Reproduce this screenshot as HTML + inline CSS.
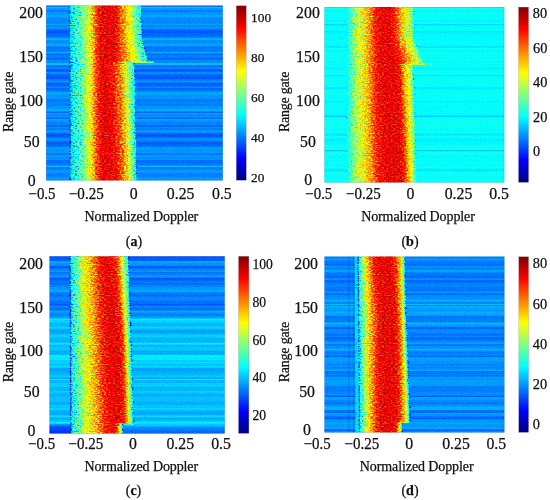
<!DOCTYPE html>
<html lang="en"><head><meta charset="utf-8"><title>Range-Doppler spectra</title>
<style>html,body{margin:0;padding:0;background:#fff}body{width:550px;height:500px;overflow:hidden}svg{display:block}text{font-family:"Liberation Serif", "DejaVu Serif", serif;fill:#111;stroke:#111;stroke-width:.25px}</style></head>
<body>
<svg width="550" height="500" viewBox="0 0 550 500">
<defs>
<linearGradient id="cbg" x1="0" y1="1" x2="0" y2="0"><stop offset="0" stop-color="#000080"/><stop offset=".125" stop-color="#0000ff"/><stop offset=".375" stop-color="#00ffff"/><stop offset=".625" stop-color="#ffff00"/><stop offset=".875" stop-color="#ff0000"/><stop offset="1" stop-color="#800000"/></linearGradient>
<filter id="jeta" filterUnits="userSpaceOnUse" x="44" y="3" width="182" height="180" color-interpolation-filters="sRGB"><feTurbulence type="fractalNoise" baseFrequency="0.45 0.9" numOctaves="2" seed="13" result="t"/><feColorMatrix in="t" type="matrix" values="1 0 0 0 0 1 0 0 0 0 1 0 0 0 0 0 0 0 0 1" result="n0"/><feComponentTransfer in="n0" result="n"><feFuncR type="table" tableValues="0 .26 .5 .63 .72"/><feFuncG type="table" tableValues="0 .26 .5 .63 .72"/><feFuncB type="table" tableValues="0 .26 .5 .63 .72"/></feComponentTransfer><feColorMatrix in="SourceGraphic" type="matrix" values="1 0 0 0 0 1 0 0 0 0 1 0 0 0 0 0 0 0 0 1" result="v"/><feColorMatrix in="SourceGraphic" type="matrix" values="0 1 0 0 0 0 1 0 0 0 0 1 0 0 0 0 0 0 0 1" result="m"/><feComposite in="m" in2="n" operator="arithmetic" k1="0.72" k2="-0.33" k3="0" k4="0.5" result="mn"/><feComposite in="v" in2="mn" operator="arithmetic" k1="0" k2="1" k3="1" k4="-0.5" result="s"/><feComponentTransfer in="s" result="c"><feFuncR type="table" tableValues="0 0 0 0 .5 1 1 1 .5"/><feFuncG type="table" tableValues="0 0 .5 1 1 1 .5 0 0"/><feFuncB type="table" tableValues=".5 1 1 1 .5 0 0 0 0"/></feComponentTransfer><feGaussianBlur in="c" stdDeviation="0.62"/></filter>
<filter id="jetb" filterUnits="userSpaceOnUse" x="322" y="5" width="185" height="181" color-interpolation-filters="sRGB"><feTurbulence type="fractalNoise" baseFrequency="0.45 0.9" numOctaves="2" seed="29" result="t"/><feColorMatrix in="t" type="matrix" values="1 0 0 0 0 1 0 0 0 0 1 0 0 0 0 0 0 0 0 1" result="n0"/><feComponentTransfer in="n0" result="n"><feFuncR type="table" tableValues="0 .26 .5 .63 .72"/><feFuncG type="table" tableValues="0 .26 .5 .63 .72"/><feFuncB type="table" tableValues="0 .26 .5 .63 .72"/></feComponentTransfer><feColorMatrix in="SourceGraphic" type="matrix" values="1 0 0 0 0 1 0 0 0 0 1 0 0 0 0 0 0 0 0 1" result="v"/><feColorMatrix in="SourceGraphic" type="matrix" values="0 1 0 0 0 0 1 0 0 0 0 1 0 0 0 0 0 0 0 1" result="m"/><feComposite in="m" in2="n" operator="arithmetic" k1="0.72" k2="-0.33" k3="0" k4="0.5" result="mn"/><feComposite in="v" in2="mn" operator="arithmetic" k1="0" k2="1" k3="1" k4="-0.5" result="s"/><feComponentTransfer in="s" result="c"><feFuncR type="table" tableValues="0 0 0 0 .5 1 1 1 .5"/><feFuncG type="table" tableValues="0 0 .5 1 1 1 .5 0 0"/><feFuncB type="table" tableValues=".5 1 1 1 .5 0 0 0 0"/></feComponentTransfer><feGaussianBlur in="c" stdDeviation="0.62"/></filter>
<filter id="jetc" filterUnits="userSpaceOnUse" x="47" y="254" width="181" height="183" color-interpolation-filters="sRGB"><feTurbulence type="fractalNoise" baseFrequency="0.45 0.9" numOctaves="2" seed="37" result="t"/><feColorMatrix in="t" type="matrix" values="1 0 0 0 0 1 0 0 0 0 1 0 0 0 0 0 0 0 0 1" result="n0"/><feComponentTransfer in="n0" result="n"><feFuncR type="table" tableValues="0 .26 .5 .63 .72"/><feFuncG type="table" tableValues="0 .26 .5 .63 .72"/><feFuncB type="table" tableValues="0 .26 .5 .63 .72"/></feComponentTransfer><feColorMatrix in="SourceGraphic" type="matrix" values="1 0 0 0 0 1 0 0 0 0 1 0 0 0 0 0 0 0 0 1" result="v"/><feColorMatrix in="SourceGraphic" type="matrix" values="0 1 0 0 0 0 1 0 0 0 0 1 0 0 0 0 0 0 0 1" result="m"/><feComposite in="m" in2="n" operator="arithmetic" k1="0.72" k2="-0.33" k3="0" k4="0.5" result="mn"/><feComposite in="v" in2="mn" operator="arithmetic" k1="0" k2="1" k3="1" k4="-0.5" result="s"/><feComponentTransfer in="s" result="c"><feFuncR type="table" tableValues="0 0 0 0 .5 1 1 1 .5"/><feFuncG type="table" tableValues="0 0 .5 1 1 1 .5 0 0"/><feFuncB type="table" tableValues=".5 1 1 1 .5 0 0 0 0"/></feComponentTransfer><feGaussianBlur in="c" stdDeviation="0.62"/></filter>
<filter id="jetd" filterUnits="userSpaceOnUse" x="322" y="254" width="185" height="181" color-interpolation-filters="sRGB"><feTurbulence type="fractalNoise" baseFrequency="0.45 0.9" numOctaves="2" seed="51" result="t"/><feColorMatrix in="t" type="matrix" values="1 0 0 0 0 1 0 0 0 0 1 0 0 0 0 0 0 0 0 1" result="n0"/><feComponentTransfer in="n0" result="n"><feFuncR type="table" tableValues="0 .26 .5 .63 .72"/><feFuncG type="table" tableValues="0 .26 .5 .63 .72"/><feFuncB type="table" tableValues="0 .26 .5 .63 .72"/></feComponentTransfer><feColorMatrix in="SourceGraphic" type="matrix" values="1 0 0 0 0 1 0 0 0 0 1 0 0 0 0 0 0 0 0 1" result="v"/><feColorMatrix in="SourceGraphic" type="matrix" values="0 1 0 0 0 0 1 0 0 0 0 1 0 0 0 0 0 0 0 1" result="m"/><feComposite in="m" in2="n" operator="arithmetic" k1="0.72" k2="-0.33" k3="0" k4="0.5" result="mn"/><feComposite in="v" in2="mn" operator="arithmetic" k1="0" k2="1" k3="1" k4="-0.5" result="s"/><feComponentTransfer in="s" result="c"><feFuncR type="table" tableValues="0 0 0 0 .5 1 1 1 .5"/><feFuncG type="table" tableValues="0 0 .5 1 1 1 .5 0 0"/><feFuncB type="table" tableValues=".5 1 1 1 .5 0 0 0 0"/></feComponentTransfer><feGaussianBlur in="c" stdDeviation="0.62"/></filter>
</defs>
<rect width="550" height="500" fill="#fff"/>
<g id="plot-a">
<clipPath id="cpa"><rect x="46.2" y="5.6" width="176.6" height="174.8"/></clipPath>
<g clip-path="url(#cpa)"><g filter="url(#jeta)">
<rect x="44.2" y="3.6" width="180.6" height="3.7" fill="#3e1a00"/>
<rect x="44.2" y="7" width="180.6" height="1.3" fill="#4f1a00"/>
<rect x="44.2" y="8" width="180.6" height="2.7" fill="#461a00"/>
<rect x="44.2" y="10.4" width="180.6" height="1.3" fill="#3b1a00"/>
<rect x="44.2" y="11.4" width="180.6" height="3.3" fill="#441a00"/>
<rect x="44.2" y="14.4" width="180.6" height="3.3" fill="#491a00"/>
<rect x="44.2" y="17.4" width="180.6" height="1.3" fill="#441a00"/>
<rect x="44.2" y="18.4" width="180.6" height="3.3" fill="#421a00"/>
<rect x="44.2" y="21.4" width="180.6" height="3.3" fill="#421a00"/>
<rect x="44.2" y="24.4" width="180.6" height="1.3" fill="#4b1a00"/>
<rect x="44.2" y="25.4" width="180.6" height="1.7" fill="#3f1a00"/>
<rect x="44.2" y="26.8" width="180.6" height="2.3" fill="#471a00"/>
<rect x="44.2" y="28.8" width="180.6" height="2.1" fill="#3b1a00"/>
<rect x="44.2" y="30.6" width="180.6" height="2.7" fill="#351a00"/>
<rect x="44.2" y="33" width="180.6" height="3.3" fill="#391a00"/>
<rect x="44.2" y="36" width="180.6" height="2.1" fill="#3c1a00"/>
<rect x="44.2" y="37.8" width="180.6" height="2.7" fill="#4b1a00"/>
<rect x="44.2" y="40.2" width="180.6" height="2.3" fill="#421a00"/>
<rect x="44.2" y="42.2" width="180.6" height="1.3" fill="#451a00"/>
<rect x="44.2" y="43.2" width="180.6" height="1.7" fill="#491a00"/>
<rect x="44.2" y="44.6" width="180.6" height="2.1" fill="#4a1a00"/>
<rect x="44.2" y="46.4" width="180.6" height="2.3" fill="#3c1a00"/>
<rect x="44.2" y="48.4" width="180.6" height="1.3" fill="#411a00"/>
<rect x="44.2" y="49.4" width="180.6" height="2.7" fill="#3e1a00"/>
<rect x="44.2" y="51.8" width="180.6" height="2.1" fill="#4a1a00"/>
<rect x="44.2" y="53.6" width="180.6" height="1.3" fill="#371a00"/>
<rect x="44.2" y="54.6" width="180.6" height="3.3" fill="#401a00"/>
<rect x="44.2" y="57.6" width="180.6" height="2.7" fill="#3a1a00"/>
<rect x="44.2" y="60" width="180.6" height="3.3" fill="#421a00"/>
<rect x="44.2" y="63" width="180.6" height="2.7" fill="#4f1a00"/>
<rect x="44.2" y="65.4" width="180.6" height="1.7" fill="#371a00"/>
<rect x="44.2" y="66.8" width="180.6" height="2.7" fill="#411a00"/>
<rect x="44.2" y="69.2" width="180.6" height="2.7" fill="#351a00"/>
<rect x="44.2" y="71.6" width="180.6" height="2.7" fill="#431a00"/>
<rect x="44.2" y="74" width="180.6" height="1.7" fill="#3a1a00"/>
<rect x="44.2" y="75.4" width="180.6" height="1.3" fill="#3d1a00"/>
<rect x="44.2" y="76.4" width="180.6" height="2.7" fill="#351a00"/>
<rect x="44.2" y="78.8" width="180.6" height="2.1" fill="#3d1a00"/>
<rect x="44.2" y="80.6" width="180.6" height="2.3" fill="#461a00"/>
<rect x="44.2" y="82.6" width="180.6" height="3.3" fill="#371a00"/>
<rect x="44.2" y="85.6" width="180.6" height="1.3" fill="#3e1a00"/>
<rect x="44.2" y="86.6" width="180.6" height="2.1" fill="#421a00"/>
<rect x="44.2" y="88.4" width="180.6" height="1.7" fill="#371a00"/>
<rect x="44.2" y="89.8" width="180.6" height="2.3" fill="#3e1a00"/>
<rect x="44.2" y="91.8" width="180.6" height="3.3" fill="#491a00"/>
<rect x="44.2" y="94.8" width="180.6" height="2.3" fill="#441a00"/>
<rect x="44.2" y="96.8" width="180.6" height="2.3" fill="#451a00"/>
<rect x="44.2" y="98.8" width="180.6" height="3.3" fill="#3d1a00"/>
<rect x="44.2" y="101.8" width="180.6" height="2.3" fill="#411a00"/>
<rect x="44.2" y="103.8" width="180.6" height="2.1" fill="#3e1a00"/>
<rect x="44.2" y="105.6" width="180.6" height="3.3" fill="#441a00"/>
<rect x="44.2" y="108.6" width="180.6" height="3.3" fill="#4a1a00"/>
<rect x="44.2" y="111.6" width="180.6" height="1.7" fill="#381a00"/>
<rect x="44.2" y="113" width="180.6" height="1.7" fill="#471a00"/>
<rect x="44.2" y="114.4" width="180.6" height="1.3" fill="#441a00"/>
<rect x="44.2" y="115.4" width="180.6" height="2.7" fill="#431a00"/>
<rect x="44.2" y="117.8" width="180.6" height="1.3" fill="#351a00"/>
<rect x="44.2" y="118.8" width="180.6" height="1.3" fill="#4a1a00"/>
<rect x="44.2" y="119.8" width="180.6" height="2.1" fill="#461a00"/>
<rect x="44.2" y="121.6" width="180.6" height="1.7" fill="#411a00"/>
<rect x="44.2" y="123" width="180.6" height="1.3" fill="#3f1a00"/>
<rect x="44.2" y="124" width="180.6" height="1.7" fill="#411a00"/>
<rect x="44.2" y="125.4" width="180.6" height="1.7" fill="#381a00"/>
<rect x="44.2" y="126.8" width="180.6" height="2.1" fill="#431a00"/>
<rect x="44.2" y="128.6" width="180.6" height="2.3" fill="#3d1a00"/>
<rect x="44.2" y="130.6" width="180.6" height="1.3" fill="#4f1a00"/>
<rect x="44.2" y="131.6" width="180.6" height="2.3" fill="#411a00"/>
<rect x="44.2" y="133.6" width="180.6" height="3.3" fill="#351a00"/>
<rect x="44.2" y="136.6" width="180.6" height="1.3" fill="#3b1a00"/>
<rect x="44.2" y="137.6" width="180.6" height="3.3" fill="#431a00"/>
<rect x="44.2" y="140.6" width="180.6" height="1.3" fill="#401a00"/>
<rect x="44.2" y="141.6" width="180.6" height="2.3" fill="#371a00"/>
<rect x="44.2" y="143.6" width="180.6" height="3.3" fill="#391a00"/>
<rect x="44.2" y="146.6" width="180.6" height="3.3" fill="#461a00"/>
<rect x="44.2" y="149.6" width="180.6" height="1.3" fill="#451a00"/>
<rect x="44.2" y="150.6" width="180.6" height="3.3" fill="#451a00"/>
<rect x="44.2" y="153.6" width="180.6" height="2.1" fill="#3c1a00"/>
<rect x="44.2" y="155.4" width="180.6" height="1.3" fill="#4f1a00"/>
<rect x="44.2" y="156.4" width="180.6" height="1.3" fill="#431a00"/>
<rect x="44.2" y="157.4" width="180.6" height="1.7" fill="#431a00"/>
<rect x="44.2" y="158.8" width="180.6" height="1.7" fill="#451a00"/>
<rect x="44.2" y="160.2" width="180.6" height="3.3" fill="#3b1a00"/>
<rect x="44.2" y="163.2" width="180.6" height="2.7" fill="#3f1a00"/>
<rect x="44.2" y="165.6" width="180.6" height="1.7" fill="#4f1a00"/>
<rect x="44.2" y="167" width="180.6" height="2.1" fill="#3c1a00"/>
<rect x="44.2" y="168.8" width="180.6" height="2.1" fill="#431a00"/>
<rect x="44.2" y="170.6" width="180.6" height="2.3" fill="#481a00"/>
<rect x="44.2" y="172.6" width="180.6" height="1.3" fill="#431a00"/>
<rect x="44.2" y="173.6" width="180.6" height="3.3" fill="#3f1a00"/>
<rect x="44.2" y="176.6" width="180.6" height="3.3" fill="#451a00"/>
<rect x="44.2" y="179.6" width="180.6" height="2.8" fill="#481a00"/>
<polygon fill="#4cff00" points="69.8,5.6 70,38 141.5,38 140.8,5.6"/>
<polygon fill="#52ff00" points="69.8,5.6 70,38 141.5,38 140.8,5.6"/>
<polygon fill="#57ff00" points="70.8,5.6 71,38 141.5,38 140.8,5.6"/>
<polygon fill="#5cff00" points="72.8,5.6 73,38 141.5,38 140.8,5.6"/>
<polygon fill="#61ff00" points="74.8,5.6 75,38 141,38 140.3,5.6"/>
<polygon fill="#66ff00" points="76.47,5.6 76.67,38 140,38 139.3,5.6"/>
<polygon fill="#6bff00" points="78.13,5.6 78.33,38 139,38 138.3,5.6"/>
<polygon fill="#70ff00" points="79.8,5.6 80,38 138.12,38 137.43,5.6"/>
<polygon fill="#75ff00" points="81.05,5.6 81.25,38 137.25,38 136.55,5.6"/>
<polygon fill="#7aff00" points="82.3,5.6 82.5,38 136.38,38 135.68,5.6"/>
<polygon fill="#80ff00" points="83.55,5.6 83.75,38 135.5,38 134.8,5.6"/>
<polygon fill="#85ff00" points="84.8,5.6 85,38 134.33,38 133.63,5.6"/>
<polygon fill="#8aff00" points="85.92,5.6 86.12,38 133.17,38 132.47,5.6"/>
<polygon fill="#8fff00" points="87.05,5.6 87.25,38 132,38 131.3,5.6"/>
<polygon fill="#94ff00" points="88.17,5.6 88.38,38 130.83,38 130.13,5.6"/>
<polygon fill="#99ff00" points="89.3,5.6 89.5,38 129.67,38 128.97,5.6"/>
<polygon fill="#9eff00" points="90,5.6 90.2,38 128.5,38 127.8,5.6"/>
<polygon fill="#a3ff00" points="90.7,5.6 90.9,38 127.5,38 126.8,5.6"/>
<polygon fill="#a8ff00" points="91.4,5.6 91.6,38 126.5,38 125.8,5.6"/>
<polygon fill="#adff00" points="92.1,5.6 92.3,38 125.5,38 124.8,5.6"/>
<polygon fill="#b2ff00" points="92.8,5.6 93,38 124.5,38 123.8,5.6"/>
<polygon fill="#b8ff00" points="93.47,5.6 93.67,38 123.62,38 122.93,5.6"/>
<polygon fill="#bdff00" points="94.13,5.6 94.33,38 122.75,38 122.05,5.6"/>
<polygon fill="#c2f100" points="94.8,5.6 95,38 121.88,38 121.18,5.6"/>
<polygon fill="#c7e300" points="95.47,5.6 95.67,38 121,38 120.3,5.6"/>
<polygon fill="#ccd500" points="96.26,5.6 96.46,38 120.14,38 119.44,5.6"/>
<polygon fill="#d1c800" points="97.18,5.6 97.38,38 119.29,38 118.59,5.6"/>
<polygon fill="#d6ba00" points="98.11,5.6 98.31,38 118.43,38 117.73,5.6"/>
<polygon fill="#dbac00" points="99.3,5.6 99.5,38 117,38 116.3,5.6"/>
<polygon fill="#e09e00" points="101.3,5.6 101.5,38 115,38 114.3,5.6"/>
<polygon fill="#4cff00" points="70,38 70.3,62.6 148,62.6 141.5,38"/>
<polygon fill="#52ff00" points="70,38 70.3,62.6 148,62.6 141.5,38"/>
<polygon fill="#57ff00" points="71,38 71.3,62.6 148,62.6 141.5,38"/>
<polygon fill="#5cff00" points="73,38 73.3,62.6 148,62.6 141.5,38"/>
<polygon fill="#61ff00" points="75,38 75.3,62.6 147.2,62.6 141,38"/>
<polygon fill="#66ff00" points="76.67,38 76.97,62.6 145.6,62.6 140,38"/>
<polygon fill="#6bff00" points="78.33,38 78.63,62.6 144,62.6 139,38"/>
<polygon fill="#70ff00" points="80,38 80.3,62.6 143.27,62.6 138.12,38"/>
<polygon fill="#75ff00" points="81.25,38 81.55,62.6 142.55,62.6 137.25,38"/>
<polygon fill="#7aff00" points="82.5,38 82.8,62.6 141.82,62.6 136.38,38"/>
<polygon fill="#80ff00" points="83.75,38 84.05,62.6 141.09,62.6 135.5,38"/>
<polygon fill="#85ff00" points="85,38 85.3,62.6 140.36,62.6 134.33,38"/>
<polygon fill="#8aff00" points="86.12,38 86.42,62.6 139.2,62.6 133.17,38"/>
<polygon fill="#8fff00" points="87.25,38 87.55,62.6 137.6,62.6 132,38"/>
<polygon fill="#94ff00" points="88.38,38 88.67,62.6 136,62.6 130.83,38"/>
<polygon fill="#99ff00" points="89.5,38 89.8,62.6 134,62.6 129.67,38"/>
<polygon fill="#9eff00" points="90.2,38 90.5,62.6 132,62.6 128.5,38"/>
<polygon fill="#a3ff00" points="90.9,38 91.2,62.6 130.62,62.6 127.5,38"/>
<polygon fill="#a8ff00" points="91.6,38 91.9,62.6 129.25,62.6 126.5,38"/>
<polygon fill="#adff00" points="92.3,38 92.6,62.6 127.88,62.6 125.5,38"/>
<polygon fill="#b2ff00" points="93,38 93.3,62.6 126.5,62.6 124.5,38"/>
<polygon fill="#b8ff00" points="93.67,38 93.97,62.6 125.25,62.6 123.62,38"/>
<polygon fill="#bdff00" points="94.33,38 94.63,62.6 124,62.6 122.75,38"/>
<polygon fill="#c2f100" points="95,38 95.3,62.6 122.75,62.6 121.88,38"/>
<polygon fill="#c7e300" points="95.67,38 95.97,62.6 121.5,62.6 121,38"/>
<polygon fill="#ccd500" points="96.46,38 96.76,62.6 120.64,62.6 120.14,38"/>
<polygon fill="#d1c800" points="97.38,38 97.68,62.6 119.79,62.6 119.29,38"/>
<polygon fill="#d6ba00" points="98.31,38 98.61,62.6 118.93,62.6 118.43,38"/>
<polygon fill="#dbac00" points="99.5,38 99.8,62.6 117.5,62.6 117,38"/>
<polygon fill="#e09e00" points="101.5,38 101.8,62.6 115.5,62.6 115,38"/>
<polygon fill="#4cff00" points="70.3,62.6 70.6,180.4 136.2,180.4 134,62.6"/>
<polygon fill="#52ff00" points="70.3,62.6 70.6,180.4 136.2,180.4 134,62.6"/>
<polygon fill="#57ff00" points="71.3,62.6 71.6,180.4 136.2,180.4 134,62.6"/>
<polygon fill="#5cff00" points="73.3,62.6 73.6,180.4 136.2,180.4 134,62.6"/>
<polygon fill="#61ff00" points="75.3,62.6 75.6,180.4 135.66,180.4 133.35,62.6"/>
<polygon fill="#66ff00" points="76.97,62.6 77.27,180.4 135.01,180.4 132.57,62.6"/>
<polygon fill="#6bff00" points="78.63,62.6 78.93,180.4 134.36,180.4 131.79,62.6"/>
<polygon fill="#70ff00" points="80.3,62.6 80.6,180.4 133.77,180.4 131.07,62.6"/>
<polygon fill="#75ff00" points="81.55,62.6 81.85,180.4 133.18,180.4 130.36,62.6"/>
<polygon fill="#7aff00" points="82.8,62.6 83.1,180.4 132.58,180.4 129.65,62.6"/>
<polygon fill="#80ff00" points="84.05,62.6 84.35,180.4 131.99,180.4 128.93,62.6"/>
<polygon fill="#85ff00" points="85.3,62.6 85.6,180.4 131.47,180.4 128.3,62.6"/>
<polygon fill="#8aff00" points="86.42,62.6 86.72,180.4 130.94,180.4 127.67,62.6"/>
<polygon fill="#8fff00" points="87.55,62.6 87.85,180.4 130.42,180.4 127.05,62.6"/>
<polygon fill="#94ff00" points="88.67,62.6 88.97,180.4 129.9,180.4 126.42,62.6"/>
<polygon fill="#99ff00" points="89.8,62.6 90.1,180.4 129.38,180.4 125.79,62.6"/>
<polygon fill="#9eff00" points="90.5,62.6 90.8,180.4 128.86,180.4 125.16,62.6"/>
<polygon fill="#a3ff00" points="91.2,62.6 91.5,180.4 128.1,180.4 124.25,62.6"/>
<polygon fill="#a8ff00" points="91.9,62.6 92.2,180.4 127.34,180.4 123.34,62.6"/>
<polygon fill="#adff00" points="92.6,62.6 92.9,180.4 126.59,180.4 122.43,62.6"/>
<polygon fill="#b2ff00" points="93.3,62.6 93.6,180.4 125.83,180.4 121.52,62.6"/>
<polygon fill="#b8ff00" points="93.97,62.6 94.27,180.4 125.08,180.4 120.61,62.6"/>
<polygon fill="#bdff00" points="94.63,62.6 94.93,180.4 124.32,180.4 119.7,62.6"/>
<polygon fill="#c2f100" points="95.3,62.6 95.6,180.4 123.13,180.4 118.27,62.6"/>
<polygon fill="#c7e300" points="95.97,62.6 96.27,180.4 121.94,180.4 116.84,62.6"/>
<polygon fill="#ccd500" points="96.76,62.6 97.06,180.4 120.76,180.4 115.41,62.6"/>
<polygon fill="#d1c800" points="97.68,62.6 97.98,180.4 119.6,180.4 114.02,62.6"/>
<polygon fill="#d6ba00" points="98.61,62.6 98.91,180.4 118.45,180.4 112.64,62.6"/>
<polygon fill="#dbac00" points="99.8,62.6 100.1,180.4 117.3,180.4 111.25,62.6"/>
<polygon fill="#e09e00" points="101.8,62.6 102.1,180.4 114.28,180.4 107.61,62.6"/>
<rect x="133" y="61.7" width="20.7" height="1.2" fill="#8cff00"/>
<rect x="68.93" y="5" width="1.2" height="1" fill="#221a00"/>
<rect x="140.79" y="5" width="1.2" height="1" fill="#261a00"/>
<rect x="68.61" y="7" width="1.2" height="1" fill="#2b1a00"/>
<rect x="68.62" y="10" width="1.2" height="1" fill="#2c1a00"/>
<rect x="68.98" y="11" width="1.2" height="1" fill="#301a00"/>
<rect x="68.68" y="12" width="1.2" height="1" fill="#1a1a00"/>
<rect x="69.03" y="13" width="1.2" height="1" fill="#271a00"/>
<rect x="68.85" y="16" width="1.2" height="1" fill="#311a00"/>
<rect x="141.18" y="16" width="1.2" height="1" fill="#2a1a00"/>
<rect x="68.64" y="17" width="1.2" height="1" fill="#2b1a00"/>
<rect x="69.05" y="19" width="1.2" height="1" fill="#291a00"/>
<rect x="69.14" y="20" width="1.2" height="1" fill="#2f1a00"/>
<rect x="68.62" y="21" width="1.2" height="1" fill="#1d1a00"/>
<rect x="141.26" y="21" width="1.2" height="1" fill="#271a00"/>
<rect x="69.23" y="22" width="1.2" height="1" fill="#2a1a00"/>
<rect x="69.07" y="25" width="1.2" height="1" fill="#301a00"/>
<rect x="141.18" y="26" width="1.2" height="1" fill="#201a00"/>
<rect x="68.81" y="28" width="1.2" height="1" fill="#2f1a00"/>
<rect x="69.34" y="29" width="1.2" height="1" fill="#271a00"/>
<rect x="141.37" y="29" width="1.2" height="1" fill="#1d1a00"/>
<rect x="69.14" y="30" width="1.2" height="1" fill="#2a1a00"/>
<rect x="141.6" y="32" width="1.2" height="1" fill="#2d1a00"/>
<rect x="141.21" y="36" width="1.2" height="1" fill="#2e1a00"/>
<rect x="68.65" y="38" width="1.2" height="1" fill="#2f1a00"/>
<rect x="142.09" y="41" width="1.2" height="1" fill="#2f1a00"/>
<rect x="68.91" y="43" width="1.2" height="1" fill="#281a00"/>
<rect x="142.82" y="43" width="1.2" height="1" fill="#291a00"/>
<rect x="144.35" y="47" width="1.2" height="1" fill="#2e1a00"/>
<rect x="68.93" y="48" width="1.2" height="1" fill="#201a00"/>
<rect x="144" y="48" width="1.2" height="1" fill="#1d1a00"/>
<rect x="69.43" y="50" width="1.2" height="1" fill="#2f1a00"/>
<rect x="145.07" y="50" width="1.2" height="1" fill="#2d1a00"/>
<rect x="145.23" y="51" width="1.2" height="1" fill="#301a00"/>
<rect x="69.57" y="53" width="1.2" height="1" fill="#1c1a00"/>
<rect x="69.37" y="58" width="1.2" height="1" fill="#311a00"/>
<rect x="147.31" y="58" width="1.2" height="1" fill="#1a1a00"/>
<rect x="69.08" y="61" width="1.2" height="1" fill="#1d1a00"/>
<rect x="69" y="62" width="1.2" height="1" fill="#2c1a00"/>
<rect x="69.24" y="62" width="1.2" height="1" fill="#311a00"/>
<rect x="69.01" y="63" width="1.2" height="1" fill="#261a00"/>
<rect x="133.84" y="63" width="1.2" height="1" fill="#1b1a00"/>
<rect x="69.7" y="66" width="1.2" height="1" fill="#211a00"/>
<rect x="69.44" y="67" width="1.2" height="1" fill="#301a00"/>
<rect x="69.05" y="68" width="1.2" height="1" fill="#331a00"/>
<rect x="69.25" y="69" width="1.2" height="1" fill="#2f1a00"/>
<rect x="69.36" y="70" width="1.2" height="1" fill="#201a00"/>
<rect x="134.3" y="70" width="1.2" height="1" fill="#261a00"/>
<rect x="69.53" y="71" width="1.2" height="1" fill="#221a00"/>
<rect x="134.01" y="71" width="1.2" height="1" fill="#1f1a00"/>
<rect x="68.96" y="75" width="1.2" height="1" fill="#2a1a00"/>
<rect x="134.58" y="75" width="1.2" height="1" fill="#321a00"/>
<rect x="134.63" y="76" width="1.2" height="1" fill="#201a00"/>
<rect x="69.21" y="79" width="1.2" height="1" fill="#241a00"/>
<rect x="134.66" y="79" width="1.2" height="1" fill="#1f1a00"/>
<rect x="69.09" y="80" width="1.2" height="1" fill="#1d1a00"/>
<rect x="69.42" y="81" width="1.2" height="1" fill="#1d1a00"/>
<rect x="69.49" y="83" width="1.2" height="1" fill="#2c1a00"/>
<rect x="69.73" y="87" width="1.2" height="1" fill="#1f1a00"/>
<rect x="134.47" y="89" width="1.2" height="1" fill="#2b1a00"/>
<rect x="69.2" y="91" width="1.2" height="1" fill="#1e1a00"/>
<rect x="134.39" y="91" width="1.2" height="1" fill="#231a00"/>
<rect x="69.44" y="94" width="1.2" height="1" fill="#2b1a00"/>
<rect x="69.59" y="95" width="1.2" height="1" fill="#321a00"/>
<rect x="134.77" y="96" width="1.2" height="1" fill="#1b1a00"/>
<rect x="69.69" y="99" width="1.2" height="1" fill="#2c1a00"/>
<rect x="135.1" y="101" width="1.2" height="1" fill="#2b1a00"/>
<rect x="135" y="103" width="1.2" height="1" fill="#271a00"/>
<rect x="69.61" y="104" width="1.2" height="1" fill="#281a00"/>
<rect x="69.3" y="107" width="1.2" height="1" fill="#291a00"/>
<rect x="134.58" y="107" width="1.2" height="1" fill="#221a00"/>
<rect x="135.07" y="108" width="1.2" height="1" fill="#221a00"/>
<rect x="135.16" y="109" width="1.2" height="1" fill="#2f1a00"/>
<rect x="69.79" y="111" width="1.2" height="1" fill="#1f1a00"/>
<rect x="134.86" y="112" width="1.2" height="1" fill="#221a00"/>
<rect x="135.21" y="113" width="1.2" height="1" fill="#1a1a00"/>
<rect x="69.53" y="114" width="1.2" height="1" fill="#311a00"/>
<rect x="69.76" y="115" width="1.2" height="1" fill="#2b1a00"/>
<rect x="134.69" y="115" width="1.2" height="1" fill="#231a00"/>
<rect x="69.57" y="119" width="1.2" height="1" fill="#301a00"/>
<rect x="69.35" y="120" width="1.2" height="1" fill="#1f1a00"/>
<rect x="69.41" y="121" width="1.2" height="1" fill="#291a00"/>
<rect x="134.77" y="121" width="1.2" height="1" fill="#271a00"/>
<rect x="69.1" y="122" width="1.2" height="1" fill="#2c1a00"/>
<rect x="135.39" y="123" width="1.2" height="1" fill="#331a00"/>
<rect x="69.6" y="124" width="1.2" height="1" fill="#1b1a00"/>
<rect x="135.02" y="124" width="1.2" height="1" fill="#321a00"/>
<rect x="69.13" y="127" width="1.2" height="1" fill="#1f1a00"/>
<rect x="69.61" y="129" width="1.2" height="1" fill="#221a00"/>
<rect x="69.82" y="130" width="1.2" height="1" fill="#2d1a00"/>
<rect x="135.07" y="133" width="1.2" height="1" fill="#2c1a00"/>
<rect x="69.12" y="134" width="1.2" height="1" fill="#211a00"/>
<rect x="69.2" y="135" width="1.2" height="1" fill="#2c1a00"/>
<rect x="69.5" y="137" width="1.2" height="1" fill="#331a00"/>
<rect x="135.56" y="137" width="1.2" height="1" fill="#1e1a00"/>
<rect x="69.45" y="138" width="1.2" height="1" fill="#1f1a00"/>
<rect x="135.28" y="138" width="1.2" height="1" fill="#261a00"/>
<rect x="69.53" y="140" width="1.2" height="1" fill="#2d1a00"/>
<rect x="69.76" y="141" width="1.2" height="1" fill="#291a00"/>
<rect x="69.87" y="142" width="1.2" height="1" fill="#1c1a00"/>
<rect x="69.84" y="143" width="1.2" height="1" fill="#1b1a00"/>
<rect x="69.41" y="145" width="1.2" height="1" fill="#231a00"/>
<rect x="69.15" y="147" width="1.2" height="1" fill="#1e1a00"/>
<rect x="69.78" y="151" width="1.2" height="1" fill="#1e1a00"/>
<rect x="69.23" y="153" width="1.2" height="1" fill="#261a00"/>
<rect x="135.59" y="153" width="1.2" height="1" fill="#1d1a00"/>
<rect x="69.77" y="154" width="1.2" height="1" fill="#2d1a00"/>
<rect x="69.2" y="157" width="1.2" height="1" fill="#2b1a00"/>
<rect x="69.79" y="158" width="1.2" height="1" fill="#251a00"/>
<rect x="69.61" y="165" width="1.2" height="1" fill="#2f1a00"/>
<rect x="135.67" y="166" width="1.2" height="1" fill="#1f1a00"/>
<rect x="69.22" y="168" width="1.2" height="1" fill="#221a00"/>
<rect x="69.32" y="171" width="1.2" height="1" fill="#2f1a00"/>
<rect x="135.98" y="173" width="1.2" height="1" fill="#1a1a00"/>
<rect x="69.28" y="177" width="1.2" height="1" fill="#2f1a00"/>
<rect x="69.54" y="178" width="1.2" height="1" fill="#241a00"/>
<rect x="69.74" y="179" width="1.2" height="1" fill="#1d1a00"/>
</g></g>
<rect x="46.45" y="5.85" width="176.1" height="174.3" fill="none" stroke="#00103a" stroke-opacity=".25" stroke-width=".5"/>
</g>
<g id="plot-b">
<clipPath id="cpb"><rect x="324.5" y="7" width="179.8" height="175.5"/></clipPath>
<g clip-path="url(#cpb)"><g filter="url(#jetb)">
<rect x="322.5" y="5" width="183.8" height="4.3" fill="#631a00"/>
<rect x="322.5" y="9" width="183.8" height="1.3" fill="#621a00"/>
<rect x="322.5" y="10" width="183.8" height="1.7" fill="#5d1a00"/>
<rect x="322.5" y="11.4" width="183.8" height="3.3" fill="#611a00"/>
<rect x="322.5" y="14.4" width="183.8" height="1.3" fill="#611a00"/>
<rect x="322.5" y="15.4" width="183.8" height="2.3" fill="#601a00"/>
<rect x="322.5" y="17.4" width="183.8" height="3.3" fill="#601a00"/>
<rect x="322.5" y="20.4" width="183.8" height="2.1" fill="#5e1a00"/>
<rect x="322.5" y="22.2" width="183.8" height="2.7" fill="#611a00"/>
<rect x="322.5" y="24.6" width="183.8" height="2.7" fill="#5e1a00"/>
<rect x="322.5" y="27" width="183.8" height="1.7" fill="#5f1a00"/>
<rect x="322.5" y="28.4" width="183.8" height="3.3" fill="#601a00"/>
<rect x="322.5" y="31.4" width="183.8" height="1.3" fill="#601a00"/>
<rect x="322.5" y="32.4" width="183.8" height="2.7" fill="#5d1a00"/>
<rect x="322.5" y="34.8" width="183.8" height="3.3" fill="#5e1a00"/>
<rect x="322.5" y="37.8" width="183.8" height="1.7" fill="#5e1a00"/>
<rect x="322.5" y="39.2" width="183.8" height="1.7" fill="#5e1a00"/>
<rect x="322.5" y="40.6" width="183.8" height="2.1" fill="#621a00"/>
<rect x="322.5" y="42.4" width="183.8" height="2.7" fill="#5f1a00"/>
<rect x="322.5" y="44.8" width="183.8" height="2.7" fill="#5e1a00"/>
<rect x="322.5" y="47.2" width="183.8" height="2.7" fill="#631a00"/>
<rect x="322.5" y="49.6" width="183.8" height="2.7" fill="#5e1a00"/>
<rect x="322.5" y="52" width="183.8" height="2.7" fill="#611a00"/>
<rect x="322.5" y="54.4" width="183.8" height="1.3" fill="#621a00"/>
<rect x="322.5" y="55.4" width="183.8" height="2.1" fill="#611a00"/>
<rect x="322.5" y="57.2" width="183.8" height="1.3" fill="#601a00"/>
<rect x="322.5" y="58.2" width="183.8" height="3.3" fill="#611a00"/>
<rect x="322.5" y="61.2" width="183.8" height="1.3" fill="#5e1a00"/>
<rect x="322.5" y="62.2" width="183.8" height="2.7" fill="#601a00"/>
<rect x="322.5" y="64.6" width="183.8" height="3.3" fill="#601a00"/>
<rect x="322.5" y="67.6" width="183.8" height="1.3" fill="#5d1a00"/>
<rect x="322.5" y="68.6" width="183.8" height="2.7" fill="#5e1a00"/>
<rect x="322.5" y="71" width="183.8" height="2.1" fill="#621a00"/>
<rect x="322.5" y="72.8" width="183.8" height="3.3" fill="#611a00"/>
<rect x="322.5" y="75.8" width="183.8" height="3.3" fill="#5f1a00"/>
<rect x="322.5" y="78.8" width="183.8" height="3.3" fill="#611a00"/>
<rect x="322.5" y="81.8" width="183.8" height="1.3" fill="#621a00"/>
<rect x="322.5" y="82.8" width="183.8" height="1.3" fill="#601a00"/>
<rect x="322.5" y="83.8" width="183.8" height="3.3" fill="#601a00"/>
<rect x="322.5" y="86.8" width="183.8" height="2.1" fill="#5f1a00"/>
<rect x="322.5" y="88.6" width="183.8" height="1.3" fill="#621a00"/>
<rect x="322.5" y="89.6" width="183.8" height="1.3" fill="#5f1a00"/>
<rect x="322.5" y="90.6" width="183.8" height="2.7" fill="#611a00"/>
<rect x="322.5" y="93" width="183.8" height="3.3" fill="#611a00"/>
<rect x="322.5" y="96" width="183.8" height="2.7" fill="#601a00"/>
<rect x="322.5" y="98.4" width="183.8" height="2.3" fill="#611a00"/>
<rect x="322.5" y="100.4" width="183.8" height="2.7" fill="#601a00"/>
<rect x="322.5" y="102.8" width="183.8" height="2.1" fill="#601a00"/>
<rect x="322.5" y="104.6" width="183.8" height="2.1" fill="#621a00"/>
<rect x="322.5" y="106.4" width="183.8" height="2.1" fill="#5e1a00"/>
<rect x="322.5" y="108.2" width="183.8" height="2.7" fill="#5f1a00"/>
<rect x="322.5" y="110.6" width="183.8" height="2.7" fill="#601a00"/>
<rect x="322.5" y="113" width="183.8" height="2.7" fill="#5d1a00"/>
<rect x="322.5" y="115.4" width="183.8" height="1.7" fill="#5c1a00"/>
<rect x="322.5" y="116.8" width="183.8" height="1.7" fill="#611a00"/>
<rect x="322.5" y="118.2" width="183.8" height="3.3" fill="#621a00"/>
<rect x="322.5" y="121.2" width="183.8" height="2.7" fill="#611a00"/>
<rect x="322.5" y="123.6" width="183.8" height="1.7" fill="#611a00"/>
<rect x="322.5" y="125" width="183.8" height="1.7" fill="#621a00"/>
<rect x="322.5" y="126.4" width="183.8" height="2.7" fill="#641a00"/>
<rect x="322.5" y="128.8" width="183.8" height="2.3" fill="#5f1a00"/>
<rect x="322.5" y="130.8" width="183.8" height="2.7" fill="#621a00"/>
<rect x="322.5" y="133.2" width="183.8" height="1.3" fill="#5e1a00"/>
<rect x="322.5" y="134.2" width="183.8" height="1.7" fill="#5a1a00"/>
<rect x="322.5" y="135.6" width="183.8" height="3.3" fill="#611a00"/>
<rect x="322.5" y="138.6" width="183.8" height="1.3" fill="#5a1a00"/>
<rect x="322.5" y="139.6" width="183.8" height="3.3" fill="#601a00"/>
<rect x="322.5" y="142.6" width="183.8" height="2.7" fill="#5e1a00"/>
<rect x="322.5" y="145" width="183.8" height="2.7" fill="#631a00"/>
<rect x="322.5" y="147.4" width="183.8" height="3.3" fill="#631a00"/>
<rect x="322.5" y="150.4" width="183.8" height="2.1" fill="#5e1a00"/>
<rect x="322.5" y="152.2" width="183.8" height="3.3" fill="#631a00"/>
<rect x="322.5" y="155.2" width="183.8" height="2.7" fill="#5f1a00"/>
<rect x="322.5" y="157.6" width="183.8" height="2.7" fill="#601a00"/>
<rect x="322.5" y="160" width="183.8" height="1.3" fill="#5f1a00"/>
<rect x="322.5" y="161" width="183.8" height="2.1" fill="#611a00"/>
<rect x="322.5" y="162.8" width="183.8" height="1.3" fill="#621a00"/>
<rect x="322.5" y="163.8" width="183.8" height="2.3" fill="#5f1a00"/>
<rect x="322.5" y="165.8" width="183.8" height="1.3" fill="#621a00"/>
<rect x="322.5" y="166.8" width="183.8" height="1.7" fill="#641a00"/>
<rect x="322.5" y="168.2" width="183.8" height="1.7" fill="#5e1a00"/>
<rect x="322.5" y="169.6" width="183.8" height="2.7" fill="#601a00"/>
<rect x="322.5" y="172" width="183.8" height="3.3" fill="#611a00"/>
<rect x="322.5" y="175" width="183.8" height="1.3" fill="#621a00"/>
<rect x="322.5" y="176" width="183.8" height="1.7" fill="#5e1a00"/>
<rect x="322.5" y="177.4" width="183.8" height="3.3" fill="#601a00"/>
<rect x="322.5" y="180.4" width="183.8" height="1.3" fill="#641a00"/>
<rect x="322.5" y="181.4" width="183.8" height="3.1" fill="#611a00"/>
<rect x="322.5" y="24" width="183.8" height="1.1" fill="#000" opacity="0.09"/>
<rect x="322.5" y="31" width="183.8" height="1.1" fill="#000" opacity="0.06"/>
<rect x="322.5" y="46.5" width="183.8" height="1.1" fill="#000" opacity="0.1"/>
<rect x="322.5" y="75" width="183.8" height="1.1" fill="#000" opacity="0.08"/>
<rect x="322.5" y="87.5" width="183.8" height="1.1" fill="#000" opacity="0.1"/>
<rect x="322.5" y="101" width="183.8" height="1.1" fill="#000" opacity="0.05"/>
<rect x="322.5" y="116" width="183.8" height="1.1" fill="#000" opacity="0.1"/>
<rect x="322.5" y="127.5" width="183.8" height="1.1" fill="#000" opacity="0.07"/>
<rect x="322.5" y="140" width="183.8" height="1.1" fill="#000" opacity="0.05"/>
<rect x="322.5" y="150" width="183.8" height="1.1" fill="#000" opacity="0.1"/>
<rect x="322.5" y="170" width="183.8" height="1.1" fill="#000" opacity="0.09"/>
<polygon fill="#4c5900" points="347,7 347,37 413.5,37 413.5,7"/>
<polygon fill="#525900" points="347,7 347,37 413.5,37 413.5,7"/>
<polygon fill="#575900" points="347,7 347,37 413.5,37 413.5,7"/>
<polygon fill="#5c5900" points="347,7 347,37 413.5,37 413.5,7"/>
<polygon fill="#615900" points="347,7 347,37 413.5,37 413.5,7"/>
<polygon fill="#665900" points="347.75,7 347.75,37 413.5,37 413.5,7"/>
<polygon fill="#6b8900" points="349.25,7 349.25,37 413.5,37 413.5,7"/>
<polygon fill="#70b800" points="350.5,7 350.5,37 412.93,37 412.93,7"/>
<polygon fill="#75e700" points="351.5,7 351.5,37 412.36,37 412.36,7"/>
<polygon fill="#7aff00" points="352.5,7 352.5,37 411.79,37 411.79,7"/>
<polygon fill="#80ff00" points="353.67,7 353.67,37 411.08,37 411.08,7"/>
<polygon fill="#85ff00" points="355,7 355,37 410.25,37 410.25,7"/>
<polygon fill="#8aff00" points="356.33,7 356.33,37 409.42,37 409.42,7"/>
<polygon fill="#8fff00" points="357.8,7 357.8,37 408.4,37 408.4,7"/>
<polygon fill="#94ff00" points="359.4,7 359.4,37 407.2,37 407.2,7"/>
<polygon fill="#99ff00" points="361,7 361,37 406,37 406,7"/>
<polygon fill="#9eff00" points="362.6,7 362.6,37 404.83,37 404.83,7"/>
<polygon fill="#a3ff00" points="364.2,7 364.2,37 403.67,37 403.67,7"/>
<polygon fill="#a8ff00" points="365.67,7 365.67,37 402.5,37 402.5,7"/>
<polygon fill="#adff00" points="367,7 367,37 401.62,37 401.62,7"/>
<polygon fill="#b2ff00" points="368.33,7 368.33,37 400.75,37 400.75,7"/>
<polygon fill="#b8ff00" points="369.5,7 369.5,37 399.88,37 399.88,7"/>
<polygon fill="#bdff00" points="370.5,7 370.5,37 399,37 399,7"/>
<polygon fill="#c2f100" points="371.5,7 371.5,37 398.12,37 398.12,7"/>
<polygon fill="#c7e300" points="372.5,7 372.5,37 397.25,37 397.25,7"/>
<polygon fill="#ccd500" points="373.5,7 373.5,37 396.38,37 396.38,7"/>
<polygon fill="#d1c800" points="374.5,7 374.5,37 395.5,37 395.5,7"/>
<polygon fill="#d6ba00" points="375.5,7 375.5,37 394.3,37 394.3,7"/>
<polygon fill="#dbac00" points="377.83,7 377.83,37 393.1,37 393.1,7"/>
<polygon fill="#e09e00" points="381.22,7 381.22,37 390.28,37 390.28,7"/>
<polygon fill="#4c5900" points="347,37 347,64.3 423.5,64.3 413.5,37"/>
<polygon fill="#525900" points="347,37 347,64.3 423.5,64.3 413.5,37"/>
<polygon fill="#575900" points="347,37 347,64.3 423.5,64.3 413.5,37"/>
<polygon fill="#5c5900" points="347,37 347,64.3 423.5,64.3 413.5,37"/>
<polygon fill="#615900" points="347,37 347,64.3 423.5,64.3 413.5,37"/>
<polygon fill="#665900" points="347.75,37 347.75,64.3 423.5,64.3 413.5,37"/>
<polygon fill="#6b8900" points="349.25,37 349.25,64.3 423.5,64.3 413.5,37"/>
<polygon fill="#70b800" points="350.5,37 350.5,64.3 423.5,64.3 412.93,37"/>
<polygon fill="#75e700" points="351.5,37 351.5,64.3 423.2,64.3 412.36,37"/>
<polygon fill="#7aff00" points="352.5,37 352.5,64.3 422.6,64.3 411.79,37"/>
<polygon fill="#80ff00" points="353.67,37 353.67,64.3 422,64.3 411.08,37"/>
<polygon fill="#85ff00" points="355,37 355,64.3 421.33,64.3 410.25,37"/>
<polygon fill="#8aff00" points="356.33,37 356.33,64.3 420.67,64.3 409.42,37"/>
<polygon fill="#8fff00" points="357.8,37 357.8,64.3 420,64.3 408.4,37"/>
<polygon fill="#94ff00" points="359.4,37 359.4,64.3 418.83,64.3 407.2,37"/>
<polygon fill="#99ff00" points="361,37 361,64.3 417.67,64.3 406,37"/>
<polygon fill="#9eff00" points="362.6,37 362.6,64.3 416.5,64.3 404.83,37"/>
<polygon fill="#a3ff00" points="364.2,37 364.2,64.3 414.9,64.3 403.67,37"/>
<polygon fill="#a8ff00" points="365.67,37 365.67,64.3 413.3,64.3 402.5,37"/>
<polygon fill="#adff00" points="367,37 367,64.3 411.79,64.3 401.62,37"/>
<polygon fill="#b2ff00" points="368.33,37 368.33,64.3 410.36,64.3 400.75,37"/>
<polygon fill="#b8ff00" points="369.5,37 369.5,64.3 408.93,64.3 399.88,37"/>
<polygon fill="#bdff00" points="370.5,37 370.5,64.3 407.5,64.3 399,37"/>
<polygon fill="#c2f100" points="371.5,37 371.5,64.3 406.5,64.3 398.12,37"/>
<polygon fill="#c7e300" points="372.5,37 372.5,64.3 405.5,64.3 397.25,37"/>
<polygon fill="#ccd500" points="373.5,37 373.5,64.3 404.5,64.3 396.38,37"/>
<polygon fill="#d1c800" points="374.5,37 374.5,64.3 403.5,64.3 395.5,37"/>
<polygon fill="#d6ba00" points="375.5,37 375.5,64.3 402.5,64.3 394.3,37"/>
<polygon fill="#dbac00" points="377.83,37 377.83,64.3 399.83,64.3 393.1,37"/>
<polygon fill="#e09e00" points="381.22,37 381.22,64.3 396.28,64.3 390.28,37"/>
<polygon fill="#4c5900" points="347,64.3 347,182.5 416,182.5 413,64.3"/>
<polygon fill="#525900" points="347,64.3 347,182.5 416,182.5 413,64.3"/>
<polygon fill="#575900" points="347,64.3 347,182.5 416,182.5 413,64.3"/>
<polygon fill="#5c5900" points="347,64.3 347,182.5 416,182.5 413,64.3"/>
<polygon fill="#615900" points="347,64.3 347,182.5 416,182.5 413,64.3"/>
<polygon fill="#665900" points="347.75,64.3 347.82,182.5 416,182.5 413,64.3"/>
<polygon fill="#6b8900" points="349.25,64.3 349.45,182.5 416,182.5 413,64.3"/>
<polygon fill="#70b800" points="350.5,64.3 350.81,182.5 415.67,182.5 412.59,64.3"/>
<polygon fill="#75e700" points="351.5,64.3 351.91,182.5 415.34,182.5 412.18,64.3"/>
<polygon fill="#7aff00" points="352.5,64.3 353,182.5 415.01,182.5 411.77,64.3"/>
<polygon fill="#80ff00" points="353.67,64.3 354.27,182.5 414.6,182.5 411.26,64.3"/>
<polygon fill="#85ff00" points="355,64.3 355.72,182.5 414.12,182.5 410.66,64.3"/>
<polygon fill="#8aff00" points="356.33,64.3 357.17,182.5 413.63,182.5 410.06,64.3"/>
<polygon fill="#8fff00" points="357.8,64.3 358.77,182.5 413.04,182.5 409.33,64.3"/>
<polygon fill="#94ff00" points="359.4,64.3 360.52,182.5 412.35,182.5 408.46,64.3"/>
<polygon fill="#99ff00" points="361,64.3 362.26,182.5 411.65,182.5 407.6,64.3"/>
<polygon fill="#9eff00" points="362.6,64.3 364,182.5 410.97,182.5 406.76,64.3"/>
<polygon fill="#a3ff00" points="364.2,64.3 365.75,182.5 410.3,182.5 405.92,64.3"/>
<polygon fill="#a8ff00" points="365.67,64.3 367.35,182.5 409.62,182.5 405.08,64.3"/>
<polygon fill="#adff00" points="367,64.3 368.8,182.5 409.11,182.5 404.45,64.3"/>
<polygon fill="#b2ff00" points="368.33,64.3 370.25,182.5 408.61,182.5 403.82,64.3"/>
<polygon fill="#b8ff00" points="369.5,64.3 371.53,182.5 408.1,182.5 403.19,64.3"/>
<polygon fill="#bdff00" points="370.5,64.3 372.62,182.5 407.59,182.5 402.56,64.3"/>
<polygon fill="#c2f100" points="371.5,64.3 373.71,182.5 407.08,182.5 401.93,64.3"/>
<polygon fill="#c7e300" points="372.5,64.3 374.8,182.5 406.57,182.5 401.3,64.3"/>
<polygon fill="#ccd500" points="373.5,64.3 375.88,182.5 406.07,182.5 400.67,64.3"/>
<polygon fill="#d1c800" points="374.5,64.3 376.98,182.5 405.56,182.5 400.04,64.3"/>
<polygon fill="#d6ba00" points="375.5,64.3 378.06,182.5 404.86,182.5 399.18,64.3"/>
<polygon fill="#dbac00" points="377.83,64.3 380.61,182.5 404.17,182.5 398.31,64.3"/>
<polygon fill="#e09e00" points="381.22,64.3 384.3,182.5 402.53,182.5 396.28,64.3"/>
<rect x="404" y="63.5" width="21" height="1.2" fill="#99ff00"/>
<rect x="425" y="63.6" width="9.5" height="1" fill="#78ff00"/>
<rect x="413.51" y="11" width="1.2" height="1" fill="#401a00"/>
<rect x="413.3" y="14" width="1.2" height="1" fill="#481a00"/>
<rect x="413.69" y="28" width="1.2" height="1" fill="#511a00"/>
<rect x="416.43" y="45" width="1.2" height="1" fill="#471a00"/>
<rect x="413.2" y="78" width="1.2" height="1" fill="#411a00"/>
<rect x="413.04" y="79" width="1.2" height="1" fill="#3f1a00"/>
<rect x="413.98" y="87" width="1.2" height="1" fill="#481a00"/>
<rect x="414.12" y="94" width="1.2" height="1" fill="#421a00"/>
<rect x="414.09" y="107" width="1.2" height="1" fill="#4c1a00"/>
<rect x="413.92" y="112" width="1.2" height="1" fill="#4d1a00"/>
<rect x="414.41" y="116" width="1.2" height="1" fill="#431a00"/>
<rect x="346.2" y="117" width="1.2" height="1" fill="#3e1a00"/>
<rect x="346.07" y="131" width="1.2" height="1" fill="#441a00"/>
<rect x="415.15" y="134" width="1.2" height="1" fill="#4a1a00"/>
<rect x="414.91" y="140" width="1.2" height="1" fill="#431a00"/>
<rect x="345.89" y="151" width="1.2" height="1" fill="#4b1a00"/>
<rect x="415.2" y="153" width="1.2" height="1" fill="#441a00"/>
<rect x="415.51" y="157" width="1.2" height="1" fill="#501a00"/>
<rect x="345.97" y="170" width="1.2" height="1" fill="#4a1a00"/>
</g></g>
<rect x="324.75" y="7.25" width="179.3" height="175" fill="none" stroke="#00103a" stroke-opacity=".25" stroke-width=".5"/>
</g>
<g id="plot-c">
<clipPath id="cpc"><rect x="49.5" y="256.2" width="175.2" height="177.3"/></clipPath>
<g clip-path="url(#cpc)"><g filter="url(#jetc)">
<rect x="47.5" y="254.2" width="179.2" height="4.7" fill="#361a00"/>
<rect x="47.5" y="258.6" width="179.2" height="2.7" fill="#381a00"/>
<rect x="47.5" y="261" width="179.2" height="2.3" fill="#491a00"/>
<rect x="47.5" y="263" width="179.2" height="3.3" fill="#431a00"/>
<rect x="47.5" y="266" width="179.2" height="2.7" fill="#361a00"/>
<rect x="47.5" y="268.4" width="179.2" height="2.7" fill="#421a00"/>
<rect x="47.5" y="270.8" width="179.2" height="1.3" fill="#491a00"/>
<rect x="47.5" y="271.8" width="179.2" height="1.3" fill="#3c1a00"/>
<rect x="47.5" y="272.8" width="179.2" height="2.3" fill="#3e1a00"/>
<rect x="47.5" y="274.8" width="179.2" height="3.3" fill="#451a00"/>
<rect x="47.5" y="277.8" width="179.2" height="1.7" fill="#331a00"/>
<rect x="47.5" y="279.2" width="179.2" height="2.3" fill="#3a1a00"/>
<rect x="47.5" y="281.2" width="179.2" height="2.3" fill="#3f1a00"/>
<rect x="47.5" y="283.2" width="179.2" height="1.7" fill="#381a00"/>
<rect x="47.5" y="284.6" width="179.2" height="2.3" fill="#411a00"/>
<rect x="47.5" y="286.6" width="179.2" height="3.3" fill="#451a00"/>
<rect x="47.5" y="289.6" width="179.2" height="2.7" fill="#491a00"/>
<rect x="47.5" y="292" width="179.2" height="1.7" fill="#411a00"/>
<rect x="47.5" y="293.4" width="179.2" height="2.3" fill="#3d1a00"/>
<rect x="47.5" y="295.4" width="179.2" height="1.7" fill="#3c1a00"/>
<rect x="47.5" y="296.8" width="179.2" height="2.1" fill="#421a00"/>
<rect x="47.5" y="298.6" width="179.2" height="2.1" fill="#431a00"/>
<rect x="47.5" y="300.4" width="179.2" height="2.3" fill="#3d1a00"/>
<rect x="47.5" y="302.4" width="179.2" height="2.1" fill="#3c1a00"/>
<rect x="47.5" y="304.2" width="179.2" height="1.7" fill="#361a00"/>
<rect x="47.5" y="305.6" width="179.2" height="2.3" fill="#421a00"/>
<rect x="47.5" y="307.6" width="179.2" height="2.3" fill="#3a1a00"/>
<rect x="47.5" y="309.6" width="179.2" height="1.3" fill="#3f1a00"/>
<rect x="47.5" y="310.6" width="179.2" height="2.3" fill="#4a1a00"/>
<rect x="47.5" y="312.6" width="179.2" height="1.3" fill="#451a00"/>
<rect x="47.5" y="313.6" width="179.2" height="2.3" fill="#3f1a00"/>
<rect x="47.5" y="315.6" width="179.2" height="1.3" fill="#451a00"/>
<rect x="47.5" y="316.6" width="179.2" height="1.3" fill="#481a00"/>
<rect x="47.5" y="317.6" width="179.2" height="1.3" fill="#4b1a00"/>
<rect x="47.5" y="318.6" width="179.2" height="1.7" fill="#5b1a00"/>
<rect x="47.5" y="320" width="179.2" height="2.3" fill="#551a00"/>
<rect x="47.5" y="322" width="179.2" height="1.7" fill="#521a00"/>
<rect x="47.5" y="323.4" width="179.2" height="3.3" fill="#4d1a00"/>
<rect x="47.5" y="326.4" width="179.2" height="2.7" fill="#551a00"/>
<rect x="47.5" y="328.8" width="179.2" height="2.7" fill="#491a00"/>
<rect x="47.5" y="331.2" width="179.2" height="1.7" fill="#481a00"/>
<rect x="47.5" y="332.6" width="179.2" height="2.1" fill="#4c1a00"/>
<rect x="47.5" y="334.4" width="179.2" height="3.3" fill="#541a00"/>
<rect x="47.5" y="337.4" width="179.2" height="2.7" fill="#4d1a00"/>
<rect x="47.5" y="339.8" width="179.2" height="1.3" fill="#4d1a00"/>
<rect x="47.5" y="340.8" width="179.2" height="2.1" fill="#4c1a00"/>
<rect x="47.5" y="342.6" width="179.2" height="2.3" fill="#5a1a00"/>
<rect x="47.5" y="344.6" width="179.2" height="1.3" fill="#501a00"/>
<rect x="47.5" y="345.6" width="179.2" height="1.7" fill="#4c1a00"/>
<rect x="47.5" y="347" width="179.2" height="2.7" fill="#521a00"/>
<rect x="47.5" y="349.4" width="179.2" height="2.1" fill="#501a00"/>
<rect x="47.5" y="351.2" width="179.2" height="1.3" fill="#481a00"/>
<rect x="47.5" y="352.2" width="179.2" height="1.7" fill="#4c1a00"/>
<rect x="47.5" y="353.6" width="179.2" height="1.3" fill="#481a00"/>
<rect x="47.5" y="354.6" width="179.2" height="3.3" fill="#5b1a00"/>
<rect x="47.5" y="357.6" width="179.2" height="1.3" fill="#581a00"/>
<rect x="47.5" y="358.6" width="179.2" height="1.3" fill="#5b1a00"/>
<rect x="47.5" y="359.6" width="179.2" height="1.3" fill="#5a1a00"/>
<rect x="47.5" y="360.6" width="179.2" height="1.3" fill="#4e1a00"/>
<rect x="47.5" y="361.6" width="179.2" height="1.3" fill="#591a00"/>
<rect x="47.5" y="362.6" width="179.2" height="1.3" fill="#551a00"/>
<rect x="47.5" y="363.6" width="179.2" height="2.7" fill="#501a00"/>
<rect x="47.5" y="366" width="179.2" height="2.1" fill="#561a00"/>
<rect x="47.5" y="367.8" width="179.2" height="3.3" fill="#481a00"/>
<rect x="47.5" y="370.8" width="179.2" height="1.3" fill="#4b1a00"/>
<rect x="47.5" y="371.8" width="179.2" height="1.3" fill="#4b1a00"/>
<rect x="47.5" y="372.8" width="179.2" height="2.1" fill="#4c1a00"/>
<rect x="47.5" y="374.6" width="179.2" height="1.3" fill="#531a00"/>
<rect x="47.5" y="375.6" width="179.2" height="2.3" fill="#521a00"/>
<rect x="47.5" y="377.6" width="179.2" height="1.7" fill="#491a00"/>
<rect x="47.5" y="379" width="179.2" height="1.3" fill="#5b1a00"/>
<rect x="47.5" y="380" width="179.2" height="3.3" fill="#4d1a00"/>
<rect x="47.5" y="383" width="179.2" height="3.3" fill="#531a00"/>
<rect x="47.5" y="386" width="179.2" height="1.3" fill="#521a00"/>
<rect x="47.5" y="387" width="179.2" height="1.3" fill="#4a1a00"/>
<rect x="47.5" y="388" width="179.2" height="3.3" fill="#4d1a00"/>
<rect x="47.5" y="391" width="179.2" height="2.1" fill="#541a00"/>
<rect x="47.5" y="392.8" width="179.2" height="2.1" fill="#4d1a00"/>
<rect x="47.5" y="394.6" width="179.2" height="2.3" fill="#4c1a00"/>
<rect x="47.5" y="396.6" width="179.2" height="2.3" fill="#521a00"/>
<rect x="47.5" y="398.6" width="179.2" height="3.3" fill="#501a00"/>
<rect x="47.5" y="401.6" width="179.2" height="3.3" fill="#4b1a00"/>
<rect x="47.5" y="404.6" width="179.2" height="2.7" fill="#511a00"/>
<rect x="47.5" y="407" width="179.2" height="1.3" fill="#4f1a00"/>
<rect x="47.5" y="408" width="179.2" height="2.1" fill="#551a00"/>
<rect x="47.5" y="409.8" width="179.2" height="2.1" fill="#4d1a00"/>
<rect x="47.5" y="411.6" width="179.2" height="1.3" fill="#4d1a00"/>
<rect x="47.5" y="412.6" width="179.2" height="2.1" fill="#481a00"/>
<rect x="47.5" y="414.4" width="179.2" height="1.3" fill="#501a00"/>
<rect x="47.5" y="415.4" width="179.2" height="1.3" fill="#571a00"/>
<rect x="47.5" y="416.4" width="179.2" height="1.3" fill="#591a00"/>
<rect x="47.5" y="417.4" width="179.2" height="2.7" fill="#491a00"/>
<rect x="47.5" y="419.8" width="179.2" height="2.3" fill="#501a00"/>
<rect x="47.5" y="421.8" width="179.2" height="2.1" fill="#5b1a00"/>
<rect x="47.5" y="423.6" width="179.2" height="3.3" fill="#511a00"/>
<rect x="47.5" y="426.6" width="179.2" height="2.7" fill="#411a00"/>
<rect x="47.5" y="429" width="179.2" height="2.7" fill="#3d1a00"/>
<rect x="47.5" y="431.4" width="179.2" height="1.7" fill="#3a1a00"/>
<rect x="47.5" y="432.8" width="179.2" height="2.7" fill="#371a00"/>
<rect x="121" y="423" width="12.5" height="1.4" fill="#8cff00"/>
<rect x="47" y="424.3" width="23.8" height="12" fill="#000" opacity="0.22"/>
<polygon fill="#4cff00" points="70.5,256.2 71,345 130.6,345 128,256.2"/>
<polygon fill="#52ff00" points="70.5,256.2 71,345 130.6,345 128,256.2"/>
<polygon fill="#57ff00" points="70.5,256.2 71,345 130.6,345 128,256.2"/>
<polygon fill="#5cff00" points="70.5,256.2 71,345 130.6,345 128,256.2"/>
<polygon fill="#61ff00" points="72.11,256.2 72.8,345 130.3,345 127.53,256.2"/>
<polygon fill="#66ff00" points="73.71,256.2 74.6,345 130,345 127.06,256.2"/>
<polygon fill="#6bff00" points="74.93,256.2 75.97,345 129.64,345 126.47,256.2"/>
<polygon fill="#70ff00" points="76.16,256.2 77.34,345 129.27,345 125.89,256.2"/>
<polygon fill="#75ff00" points="77.38,256.2 78.71,345 128.9,345 125.3,256.2"/>
<polygon fill="#7aff00" points="78.39,256.2 79.85,345 128.58,345 124.79,256.2"/>
<polygon fill="#80ff00" points="79.19,256.2 80.75,345 128.26,345 124.29,256.2"/>
<polygon fill="#85ff00" points="80,256.2 81.65,345 127.94,345 123.78,256.2"/>
<polygon fill="#8aff00" points="80.8,256.2 82.55,345 127.62,345 123.28,256.2"/>
<polygon fill="#8fff00" points="81.81,256.2 83.69,345 127.31,345 122.77,256.2"/>
<polygon fill="#94ff00" points="83.03,256.2 85.06,345 126.99,345 122.26,256.2"/>
<polygon fill="#99ff00" points="84.26,256.2 86.43,345 126.67,345 121.76,256.2"/>
<polygon fill="#9eff00" points="85.48,256.2 87.8,345 126.35,345 121.25,256.2"/>
<polygon fill="#a3ff00" points="86.91,256.2 89.4,345 126.03,345 120.74,256.2"/>
<polygon fill="#a8ff00" points="88.33,256.2 91,345 125.71,345 120.24,256.2"/>
<polygon fill="#adff00" points="89.76,256.2 92.6,345 125.39,345 119.73,256.2"/>
<polygon fill="#b2ff00" points="91.01,256.2 94,345 125.07,345 119.22,256.2"/>
<polygon fill="#b8ff00" points="92.26,256.2 95.4,345 124.79,345 118.77,256.2"/>
<polygon fill="#bdff00" points="93.5,256.2 96.8,345 124.51,345 118.33,256.2"/>
<polygon fill="#c2f100" points="94.44,256.2 97.85,345 124.22,345 117.88,256.2"/>
<polygon fill="#c7e300" points="95.38,256.2 98.9,345 123.8,345 117.2,256.2"/>
<polygon fill="#ccd500" points="96.31,256.2 99.95,345 123.37,345 116.52,256.2"/>
<polygon fill="#d1c800" points="97.25,256.2 101,345 122.95,345 115.85,256.2"/>
<polygon fill="#d6ba00" points="98.96,256.2 102.92,345 122.52,345 115.17,256.2"/>
<polygon fill="#dbac00" points="100.67,256.2 104.84,345 121.11,345 112.92,256.2"/>
<polygon fill="#e09e00" points="103.91,256.2 108.47,345 118.98,345 109.55,256.2"/>
<polygon fill="#4cff00" points="71,345 71.3,423.5 133.2,423.5 130.6,345"/>
<polygon fill="#52ff00" points="71,345 71.3,423.5 133.2,423.5 130.6,345"/>
<polygon fill="#57ff00" points="71,345 71.3,423.5 133.2,423.5 130.6,345"/>
<polygon fill="#5cff00" points="71,345 71.3,423.5 133.2,423.5 130.6,345"/>
<polygon fill="#61ff00" points="72.8,345 73.28,423.5 132.87,423.5 130.3,345"/>
<polygon fill="#66ff00" points="74.6,345 75.26,423.5 132.53,423.5 130,345"/>
<polygon fill="#6bff00" points="75.97,345 76.77,423.5 132.12,423.5 129.64,345"/>
<polygon fill="#70ff00" points="77.34,345 78.28,423.5 131.71,423.5 129.27,345"/>
<polygon fill="#75ff00" points="78.71,345 79.79,423.5 131.3,423.5 128.9,345"/>
<polygon fill="#7aff00" points="79.85,345 81.03,423.5 130.94,423.5 128.58,345"/>
<polygon fill="#80ff00" points="80.75,345 82.02,423.5 130.59,423.5 128.26,345"/>
<polygon fill="#85ff00" points="81.65,345 83.02,423.5 130.23,423.5 127.94,345"/>
<polygon fill="#8aff00" points="82.55,345 84,423.5 129.88,423.5 127.62,345"/>
<polygon fill="#8fff00" points="83.69,345 85.25,423.5 129.52,423.5 127.31,345"/>
<polygon fill="#94ff00" points="85.06,345 86.76,423.5 129.16,423.5 126.99,345"/>
<polygon fill="#99ff00" points="86.43,345 88.27,423.5 128.81,423.5 126.67,345"/>
<polygon fill="#9eff00" points="87.8,345 89.78,423.5 128.45,423.5 126.35,345"/>
<polygon fill="#a3ff00" points="89.4,345 91.54,423.5 128.09,423.5 126.03,345"/>
<polygon fill="#a8ff00" points="91,345 93.3,423.5 127.74,423.5 125.71,345"/>
<polygon fill="#adff00" points="92.6,345 95.06,423.5 127.38,423.5 125.39,345"/>
<polygon fill="#b2ff00" points="94,345 96.6,423.5 127.02,423.5 125.07,345"/>
<polygon fill="#b8ff00" points="95.4,345 98.14,423.5 126.71,423.5 124.79,345"/>
<polygon fill="#bdff00" points="96.8,345 99.68,423.5 126.39,423.5 124.51,345"/>
<polygon fill="#c2f100" points="97.85,345 100.84,423.5 126.07,423.5 124.22,345"/>
<polygon fill="#c7e300" points="98.9,345 101.99,423.5 125.6,423.5 123.8,345"/>
<polygon fill="#ccd500" points="99.95,345 103.15,423.5 125.12,423.5 123.37,345"/>
<polygon fill="#d1c800" points="101,345 104.3,423.5 124.65,423.5 122.95,345"/>
<polygon fill="#d6ba00" points="102.92,345 106.41,423.5 124.17,423.5 122.52,345"/>
<polygon fill="#dbac00" points="104.84,345 108.52,423.5 122.59,423.5 121.11,345"/>
<polygon fill="#e09e00" points="108.47,345 112.51,423.5 120.22,423.5 118.98,345"/>
<polygon fill="#4cff00" points="71.3,423.5 71.3,433.5 122.5,433.5 122.5,423.5"/>
<polygon fill="#52ff00" points="71.3,423.5 71.3,433.5 122.5,433.5 122.5,423.5"/>
<polygon fill="#57ff00" points="71.3,423.5 71.3,433.5 122.5,433.5 122.5,423.5"/>
<polygon fill="#5cff00" points="71.3,423.5 71.3,433.5 122.5,433.5 122.5,423.5"/>
<polygon fill="#61ff00" points="73.28,423.5 73.28,433.5 122.29,433.5 122.29,423.5"/>
<polygon fill="#66ff00" points="75.26,423.5 75.26,433.5 122.08,433.5 122.08,423.5"/>
<polygon fill="#6bff00" points="76.77,423.5 76.77,433.5 121.82,433.5 121.82,423.5"/>
<polygon fill="#70ff00" points="78.28,423.5 78.28,433.5 121.56,433.5 121.56,423.5"/>
<polygon fill="#75ff00" points="79.79,423.5 79.79,433.5 121.3,433.5 121.3,423.5"/>
<polygon fill="#7aff00" points="81.03,423.5 81.03,433.5 121.08,433.5 121.08,423.5"/>
<polygon fill="#80ff00" points="82.02,423.5 82.02,433.5 120.85,433.5 120.85,423.5"/>
<polygon fill="#85ff00" points="83.02,423.5 83.02,433.5 120.62,433.5 120.62,423.5"/>
<polygon fill="#8aff00" points="84,423.5 84,433.5 120.4,433.5 120.4,423.5"/>
<polygon fill="#8fff00" points="85.25,423.5 85.25,433.5 120.17,433.5 120.17,423.5"/>
<polygon fill="#94ff00" points="86.76,423.5 86.76,433.5 119.95,433.5 119.95,423.5"/>
<polygon fill="#99ff00" points="88.27,423.5 88.27,433.5 119.73,433.5 119.73,423.5"/>
<polygon fill="#9eff00" points="89.78,423.5 89.78,433.5 119.5,433.5 119.5,423.5"/>
<polygon fill="#a3ff00" points="91.54,423.5 91.54,433.5 119.27,433.5 119.27,423.5"/>
<polygon fill="#a8ff00" points="93.3,423.5 93.3,433.5 119.05,433.5 119.05,423.5"/>
<polygon fill="#adff00" points="95.06,423.5 95.06,433.5 118.82,433.5 118.82,423.5"/>
<polygon fill="#b2ff00" points="96.6,423.5 96.6,433.5 118.6,433.5 118.6,423.5"/>
<polygon fill="#b8ff00" points="98.14,423.5 98.14,433.5 118.4,433.5 118.4,423.5"/>
<polygon fill="#bdff00" points="99.68,423.5 99.68,433.5 118.2,433.5 118.2,423.5"/>
<polygon fill="#c2f100" points="100.84,423.5 100.84,433.5 118,433.5 118,423.5"/>
<polygon fill="#c7e300" points="101.99,423.5 101.99,433.5 117.7,433.5 117.7,423.5"/>
<polygon fill="#ccd500" points="103.15,423.5 103.15,433.5 117.4,433.5 117.4,423.5"/>
<polygon fill="#d1c800" points="104.3,423.5 104.3,433.5 117.1,433.5 117.1,423.5"/>
<polygon fill="#d6ba00" points="106.41,423.5 106.41,433.5 116.8,433.5 116.8,423.5"/>
<polygon fill="#dbac00" points="108.52,423.5 108.52,433.5 115.8,433.5 115.8,423.5"/>
<polygon fill="#e09e00" points="112.51,423.5 112.51,433.5 114.3,433.5 114.3,423.5"/>
<rect x="69.12" y="256" width="1.2" height="1" fill="#211a00"/>
<rect x="128.2" y="256" width="1.2" height="1" fill="#2b1a00"/>
<rect x="127.98" y="257" width="1.2" height="1" fill="#1a1a00"/>
<rect x="69.52" y="258" width="1.2" height="1" fill="#1a1a00"/>
<rect x="128.19" y="258" width="1.2" height="1" fill="#271a00"/>
<rect x="69.59" y="259" width="1.2" height="1" fill="#2e1a00"/>
<rect x="128.34" y="259" width="1.2" height="1" fill="#2b1a00"/>
<rect x="69.25" y="260" width="1.2" height="1" fill="#321a00"/>
<rect x="69.21" y="261" width="1.2" height="1" fill="#2f1a00"/>
<rect x="69.92" y="263" width="1.2" height="1" fill="#231a00"/>
<rect x="69.19" y="266" width="1.2" height="1" fill="#1f1a00"/>
<rect x="127.97" y="266" width="1.2" height="1" fill="#1f1a00"/>
<rect x="69.39" y="267" width="1.2" height="1" fill="#2a1a00"/>
<rect x="69.34" y="268" width="1.2" height="1" fill="#201a00"/>
<rect x="69.66" y="269" width="1.2" height="1" fill="#1e1a00"/>
<rect x="69.48" y="270" width="1.2" height="1" fill="#331a00"/>
<rect x="69.73" y="271" width="1.2" height="1" fill="#2f1a00"/>
<rect x="69.22" y="272" width="1.2" height="1" fill="#221a00"/>
<rect x="128.25" y="272" width="1.2" height="1" fill="#321a00"/>
<rect x="69.52" y="274" width="1.2" height="1" fill="#311a00"/>
<rect x="69.41" y="275" width="1.2" height="1" fill="#281a00"/>
<rect x="128.63" y="275" width="1.2" height="1" fill="#301a00"/>
<rect x="69.39" y="276" width="1.2" height="1" fill="#331a00"/>
<rect x="69.26" y="277" width="1.2" height="1" fill="#1c1a00"/>
<rect x="69.54" y="279" width="1.2" height="1" fill="#331a00"/>
<rect x="69.82" y="281" width="1.2" height="1" fill="#2b1a00"/>
<rect x="69.76" y="282" width="1.2" height="1" fill="#1c1a00"/>
<rect x="70.02" y="283" width="1.2" height="1" fill="#301a00"/>
<rect x="128.8" y="283" width="1.2" height="1" fill="#1e1a00"/>
<rect x="69.78" y="285" width="1.2" height="1" fill="#291a00"/>
<rect x="129.07" y="285" width="1.2" height="1" fill="#271a00"/>
<rect x="69.54" y="287" width="1.2" height="1" fill="#1a1a00"/>
<rect x="69.33" y="289" width="1.2" height="1" fill="#301a00"/>
<rect x="69.68" y="290" width="1.2" height="1" fill="#1b1a00"/>
<rect x="129.01" y="291" width="1.2" height="1" fill="#281a00"/>
<rect x="70" y="292" width="1.2" height="1" fill="#241a00"/>
<rect x="129.09" y="292" width="1.2" height="1" fill="#2c1a00"/>
<rect x="69.56" y="293" width="1.2" height="1" fill="#331a00"/>
<rect x="69.73" y="294" width="1.2" height="1" fill="#1d1a00"/>
<rect x="128.99" y="294" width="1.2" height="1" fill="#291a00"/>
<rect x="69.5" y="295" width="1.2" height="1" fill="#1b1a00"/>
<rect x="70.05" y="296" width="1.2" height="1" fill="#2f1a00"/>
<rect x="128.97" y="296" width="1.2" height="1" fill="#2b1a00"/>
<rect x="69.44" y="297" width="1.2" height="1" fill="#311a00"/>
<rect x="69.97" y="298" width="1.2" height="1" fill="#2e1a00"/>
<rect x="128.92" y="298" width="1.2" height="1" fill="#241a00"/>
<rect x="69.72" y="299" width="1.2" height="1" fill="#2c1a00"/>
<rect x="129.22" y="300" width="1.2" height="1" fill="#221a00"/>
<rect x="129.08" y="301" width="1.2" height="1" fill="#251a00"/>
<rect x="69.58" y="302" width="1.2" height="1" fill="#201a00"/>
<rect x="70.06" y="303" width="1.2" height="1" fill="#281a00"/>
<rect x="129.78" y="303" width="1.2" height="1" fill="#2f1a00"/>
<rect x="129.43" y="305" width="1.2" height="1" fill="#1f1a00"/>
<rect x="69.43" y="306" width="1.2" height="1" fill="#231a00"/>
<rect x="70.02" y="307" width="1.2" height="1" fill="#251a00"/>
<rect x="69.97" y="309" width="1.2" height="1" fill="#1d1a00"/>
<rect x="129.94" y="309" width="1.2" height="1" fill="#281a00"/>
<rect x="70" y="310" width="1.2" height="1" fill="#1b1a00"/>
<rect x="70.09" y="311" width="1.2" height="1" fill="#1e1a00"/>
<rect x="69.57" y="312" width="1.2" height="1" fill="#291a00"/>
<rect x="69.52" y="313" width="1.2" height="1" fill="#301a00"/>
<rect x="129.75" y="313" width="1.2" height="1" fill="#291a00"/>
<rect x="69.9" y="314" width="1.2" height="1" fill="#271a00"/>
<rect x="70.01" y="315" width="1.2" height="1" fill="#201a00"/>
<rect x="69.68" y="316" width="1.2" height="1" fill="#221a00"/>
<rect x="69.81" y="317" width="1.2" height="1" fill="#331a00"/>
<rect x="69.62" y="318" width="1.2" height="1" fill="#201a00"/>
<rect x="69.59" y="320" width="1.2" height="1" fill="#2f1a00"/>
<rect x="70.26" y="321" width="1.2" height="1" fill="#2a1a00"/>
<rect x="130.17" y="321" width="1.2" height="1" fill="#211a00"/>
<rect x="70.22" y="322" width="1.2" height="1" fill="#1d1a00"/>
<rect x="129.63" y="322" width="1.2" height="1" fill="#281a00"/>
<rect x="69.96" y="323" width="1.2" height="1" fill="#2c1a00"/>
<rect x="130.08" y="323" width="1.2" height="1" fill="#201a00"/>
<rect x="70.21" y="324" width="1.2" height="1" fill="#2f1a00"/>
<rect x="129.94" y="324" width="1.2" height="1" fill="#211a00"/>
<rect x="70.11" y="325" width="1.2" height="1" fill="#2a1a00"/>
<rect x="130.22" y="325" width="1.2" height="1" fill="#281a00"/>
<rect x="69.5" y="326" width="1.2" height="1" fill="#1b1a00"/>
<rect x="69.61" y="329" width="1.2" height="1" fill="#211a00"/>
<rect x="130" y="331" width="1.2" height="1" fill="#1c1a00"/>
<rect x="70.03" y="333" width="1.2" height="1" fill="#1d1a00"/>
<rect x="70.14" y="336" width="1.2" height="1" fill="#221a00"/>
<rect x="130.64" y="338" width="1.2" height="1" fill="#1c1a00"/>
<rect x="70.23" y="340" width="1.2" height="1" fill="#251a00"/>
<rect x="130.12" y="341" width="1.2" height="1" fill="#1e1a00"/>
<rect x="70.28" y="342" width="1.2" height="1" fill="#321a00"/>
<rect x="130.64" y="342" width="1.2" height="1" fill="#241a00"/>
<rect x="130.96" y="344" width="1.2" height="1" fill="#1e1a00"/>
<rect x="130.3" y="345" width="1.2" height="1" fill="#251a00"/>
<rect x="69.86" y="346" width="1.2" height="1" fill="#291a00"/>
<rect x="70.07" y="347" width="1.2" height="1" fill="#201a00"/>
<rect x="70.35" y="348" width="1.2" height="1" fill="#271a00"/>
<rect x="70.15" y="349" width="1.2" height="1" fill="#231a00"/>
<rect x="130.88" y="349" width="1.2" height="1" fill="#221a00"/>
<rect x="70.3" y="350" width="1.2" height="1" fill="#2c1a00"/>
<rect x="69.95" y="351" width="1.2" height="1" fill="#241a00"/>
<rect x="130.52" y="351" width="1.2" height="1" fill="#241a00"/>
<rect x="70.07" y="354" width="1.2" height="1" fill="#1a1a00"/>
<rect x="130.86" y="354" width="1.2" height="1" fill="#281a00"/>
<rect x="70.01" y="355" width="1.2" height="1" fill="#251a00"/>
<rect x="130.93" y="355" width="1.2" height="1" fill="#301a00"/>
<rect x="130.65" y="356" width="1.2" height="1" fill="#271a00"/>
<rect x="69.92" y="357" width="1.2" height="1" fill="#2e1a00"/>
<rect x="69.83" y="358" width="1.2" height="1" fill="#1f1a00"/>
<rect x="130.84" y="358" width="1.2" height="1" fill="#261a00"/>
<rect x="131.01" y="359" width="1.2" height="1" fill="#2a1a00"/>
<rect x="70.22" y="360" width="1.2" height="1" fill="#261a00"/>
<rect x="131.24" y="360" width="1.2" height="1" fill="#1a1a00"/>
<rect x="70.01" y="362" width="1.2" height="1" fill="#1e1a00"/>
<rect x="69.71" y="363" width="1.2" height="1" fill="#201a00"/>
<rect x="70.32" y="364" width="1.2" height="1" fill="#2b1a00"/>
<rect x="70.44" y="365" width="1.2" height="1" fill="#301a00"/>
<rect x="70.09" y="366" width="1.2" height="1" fill="#2f1a00"/>
<rect x="69.9" y="368" width="1.2" height="1" fill="#201a00"/>
<rect x="69.92" y="370" width="1.2" height="1" fill="#1b1a00"/>
<rect x="131.26" y="370" width="1.2" height="1" fill="#221a00"/>
<rect x="69.81" y="371" width="1.2" height="1" fill="#1f1a00"/>
<rect x="69.76" y="372" width="1.2" height="1" fill="#241a00"/>
<rect x="69.87" y="373" width="1.2" height="1" fill="#241a00"/>
<rect x="70.27" y="374" width="1.2" height="1" fill="#2f1a00"/>
<rect x="69.72" y="375" width="1.2" height="1" fill="#221a00"/>
<rect x="70.32" y="377" width="1.2" height="1" fill="#271a00"/>
<rect x="69.9" y="378" width="1.2" height="1" fill="#251a00"/>
<rect x="131.58" y="378" width="1.2" height="1" fill="#2b1a00"/>
<rect x="69.86" y="379" width="1.2" height="1" fill="#251a00"/>
<rect x="131.84" y="379" width="1.2" height="1" fill="#1a1a00"/>
<rect x="70.19" y="380" width="1.2" height="1" fill="#1a1a00"/>
<rect x="70.11" y="381" width="1.2" height="1" fill="#1b1a00"/>
<rect x="70" y="382" width="1.2" height="1" fill="#2d1a00"/>
<rect x="69.82" y="384" width="1.2" height="1" fill="#1a1a00"/>
<rect x="70.38" y="386" width="1.2" height="1" fill="#2a1a00"/>
<rect x="131.62" y="387" width="1.2" height="1" fill="#1d1a00"/>
<rect x="70.3" y="388" width="1.2" height="1" fill="#281a00"/>
<rect x="132.2" y="388" width="1.2" height="1" fill="#2d1a00"/>
<rect x="70.26" y="389" width="1.2" height="1" fill="#2d1a00"/>
<rect x="132.33" y="389" width="1.2" height="1" fill="#321a00"/>
<rect x="69.79" y="390" width="1.2" height="1" fill="#211a00"/>
<rect x="69.84" y="392" width="1.2" height="1" fill="#2b1a00"/>
<rect x="70.4" y="393" width="1.2" height="1" fill="#2f1a00"/>
<rect x="70.58" y="394" width="1.2" height="1" fill="#2d1a00"/>
<rect x="70.09" y="395" width="1.2" height="1" fill="#261a00"/>
<rect x="70.57" y="397" width="1.2" height="1" fill="#2a1a00"/>
<rect x="70.15" y="398" width="1.2" height="1" fill="#2c1a00"/>
<rect x="70.45" y="399" width="1.2" height="1" fill="#271a00"/>
<rect x="70.4" y="400" width="1.2" height="1" fill="#201a00"/>
<rect x="132.78" y="401" width="1.2" height="1" fill="#201a00"/>
<rect x="70.31" y="402" width="1.2" height="1" fill="#231a00"/>
<rect x="132.79" y="402" width="1.2" height="1" fill="#1e1a00"/>
<rect x="70.46" y="403" width="1.2" height="1" fill="#221a00"/>
<rect x="70.05" y="404" width="1.2" height="1" fill="#1a1a00"/>
<rect x="70.41" y="405" width="1.2" height="1" fill="#261a00"/>
<rect x="70.35" y="406" width="1.2" height="1" fill="#261a00"/>
<rect x="70.02" y="407" width="1.2" height="1" fill="#2b1a00"/>
<rect x="70.22" y="408" width="1.2" height="1" fill="#271a00"/>
<rect x="70.11" y="409" width="1.2" height="1" fill="#2b1a00"/>
<rect x="132.54" y="409" width="1.2" height="1" fill="#1d1a00"/>
<rect x="69.95" y="410" width="1.2" height="1" fill="#271a00"/>
<rect x="70.03" y="411" width="1.2" height="1" fill="#261a00"/>
<rect x="69.94" y="413" width="1.2" height="1" fill="#1e1a00"/>
<rect x="132.61" y="413" width="1.2" height="1" fill="#1a1a00"/>
<rect x="70.09" y="414" width="1.2" height="1" fill="#321a00"/>
<rect x="69.97" y="415" width="1.2" height="1" fill="#301a00"/>
<rect x="70.23" y="417" width="1.2" height="1" fill="#1e1a00"/>
<rect x="133.35" y="417" width="1.2" height="1" fill="#261a00"/>
<rect x="70.39" y="419" width="1.2" height="1" fill="#1b1a00"/>
<rect x="133.12" y="419" width="1.2" height="1" fill="#211a00"/>
<rect x="133.31" y="420" width="1.2" height="1" fill="#291a00"/>
<rect x="133.15" y="421" width="1.2" height="1" fill="#251a00"/>
<rect x="70.58" y="422" width="1.2" height="1" fill="#331a00"/>
<rect x="70.39" y="423" width="1.2" height="1" fill="#2c1a00"/>
<rect x="70.07" y="424" width="1.2" height="1" fill="#2a1a00"/>
<rect x="122.24" y="424" width="1.2" height="1" fill="#1b1a00"/>
<rect x="70.26" y="425" width="1.2" height="1" fill="#291a00"/>
<rect x="122.29" y="425" width="1.2" height="1" fill="#2c1a00"/>
<rect x="70.26" y="426" width="1.2" height="1" fill="#2b1a00"/>
<rect x="70.65" y="428" width="1.2" height="1" fill="#241a00"/>
<rect x="70.63" y="429" width="1.2" height="1" fill="#2f1a00"/>
<rect x="122.23" y="429" width="1.2" height="1" fill="#211a00"/>
<rect x="70.36" y="430" width="1.2" height="1" fill="#211a00"/>
<rect x="122.65" y="430" width="1.2" height="1" fill="#2b1a00"/>
<rect x="69.96" y="432" width="1.2" height="1" fill="#1b1a00"/>
</g></g>
<rect x="49.75" y="256.45" width="174.7" height="176.8" fill="none" stroke="#00103a" stroke-opacity=".25" stroke-width=".5"/>
</g>
<g id="plot-d">
<clipPath id="cpd"><rect x="324.5" y="256.6" width="179.9" height="175.9"/></clipPath>
<g clip-path="url(#cpd)"><g filter="url(#jetd)">
<rect x="322.5" y="254.6" width="183.9" height="3.3" fill="#481a00"/>
<rect x="322.5" y="257.6" width="183.9" height="1.3" fill="#3c1a00"/>
<rect x="322.5" y="258.6" width="183.9" height="1.7" fill="#491a00"/>
<rect x="322.5" y="260" width="183.9" height="2.7" fill="#401a00"/>
<rect x="322.5" y="262.4" width="183.9" height="2.3" fill="#3d1a00"/>
<rect x="322.5" y="264.4" width="183.9" height="1.7" fill="#3d1a00"/>
<rect x="322.5" y="265.8" width="183.9" height="1.3" fill="#441a00"/>
<rect x="322.5" y="266.8" width="183.9" height="2.1" fill="#421a00"/>
<rect x="322.5" y="268.6" width="183.9" height="1.3" fill="#401a00"/>
<rect x="322.5" y="269.6" width="183.9" height="3.3" fill="#481a00"/>
<rect x="322.5" y="272.6" width="183.9" height="3.3" fill="#3d1a00"/>
<rect x="322.5" y="275.6" width="183.9" height="3.3" fill="#3a1a00"/>
<rect x="322.5" y="278.6" width="183.9" height="1.3" fill="#4f1a00"/>
<rect x="322.5" y="279.6" width="183.9" height="3.3" fill="#391a00"/>
<rect x="322.5" y="282.6" width="183.9" height="3.3" fill="#401a00"/>
<rect x="322.5" y="285.6" width="183.9" height="2.1" fill="#411a00"/>
<rect x="322.5" y="287.4" width="183.9" height="2.7" fill="#3d1a00"/>
<rect x="322.5" y="289.8" width="183.9" height="1.7" fill="#3c1a00"/>
<rect x="322.5" y="291.2" width="183.9" height="2.3" fill="#451a00"/>
<rect x="322.5" y="293.2" width="183.9" height="2.1" fill="#3b1a00"/>
<rect x="322.5" y="295" width="183.9" height="3.3" fill="#421a00"/>
<rect x="322.5" y="298" width="183.9" height="2.3" fill="#441a00"/>
<rect x="322.5" y="300" width="183.9" height="2.1" fill="#4c1a00"/>
<rect x="322.5" y="301.8" width="183.9" height="2.3" fill="#3f1a00"/>
<rect x="322.5" y="303.8" width="183.9" height="1.7" fill="#4e1a00"/>
<rect x="322.5" y="305.2" width="183.9" height="1.3" fill="#3e1a00"/>
<rect x="322.5" y="306.2" width="183.9" height="2.3" fill="#4b1a00"/>
<rect x="322.5" y="308.2" width="183.9" height="2.3" fill="#481a00"/>
<rect x="322.5" y="310.2" width="183.9" height="1.7" fill="#451a00"/>
<rect x="322.5" y="311.6" width="183.9" height="1.3" fill="#4e1a00"/>
<rect x="322.5" y="312.6" width="183.9" height="2.3" fill="#4a1a00"/>
<rect x="322.5" y="314.6" width="183.9" height="2.3" fill="#461a00"/>
<rect x="322.5" y="316.6" width="183.9" height="1.3" fill="#381a00"/>
<rect x="322.5" y="317.6" width="183.9" height="2.1" fill="#3f1a00"/>
<rect x="322.5" y="319.4" width="183.9" height="2.3" fill="#3f1a00"/>
<rect x="322.5" y="321.4" width="183.9" height="1.3" fill="#3e1a00"/>
<rect x="322.5" y="322.4" width="183.9" height="2.7" fill="#4d1a00"/>
<rect x="322.5" y="324.8" width="183.9" height="2.7" fill="#441a00"/>
<rect x="322.5" y="327.2" width="183.9" height="2.3" fill="#381a00"/>
<rect x="322.5" y="329.2" width="183.9" height="2.7" fill="#431a00"/>
<rect x="322.5" y="331.6" width="183.9" height="2.1" fill="#421a00"/>
<rect x="322.5" y="333.4" width="183.9" height="3.3" fill="#3c1a00"/>
<rect x="322.5" y="336.4" width="183.9" height="1.3" fill="#471a00"/>
<rect x="322.5" y="337.4" width="183.9" height="2.1" fill="#381a00"/>
<rect x="322.5" y="339.2" width="183.9" height="2.7" fill="#3f1a00"/>
<rect x="322.5" y="341.6" width="183.9" height="2.7" fill="#471a00"/>
<rect x="322.5" y="344" width="183.9" height="1.7" fill="#3d1a00"/>
<rect x="322.5" y="345.4" width="183.9" height="1.7" fill="#411a00"/>
<rect x="322.5" y="346.8" width="183.9" height="1.3" fill="#471a00"/>
<rect x="322.5" y="347.8" width="183.9" height="1.3" fill="#431a00"/>
<rect x="322.5" y="348.8" width="183.9" height="1.7" fill="#4e1a00"/>
<rect x="322.5" y="350.2" width="183.9" height="1.3" fill="#471a00"/>
<rect x="322.5" y="351.2" width="183.9" height="1.3" fill="#431a00"/>
<rect x="322.5" y="352.2" width="183.9" height="2.1" fill="#3f1a00"/>
<rect x="322.5" y="354" width="183.9" height="2.1" fill="#411a00"/>
<rect x="322.5" y="355.8" width="183.9" height="1.7" fill="#381a00"/>
<rect x="322.5" y="357.2" width="183.9" height="1.7" fill="#4a1a00"/>
<rect x="322.5" y="358.6" width="183.9" height="3.3" fill="#471a00"/>
<rect x="322.5" y="361.6" width="183.9" height="2.7" fill="#441a00"/>
<rect x="322.5" y="364" width="183.9" height="1.3" fill="#3f1a00"/>
<rect x="322.5" y="365" width="183.9" height="2.7" fill="#431a00"/>
<rect x="322.5" y="367.4" width="183.9" height="2.7" fill="#421a00"/>
<rect x="322.5" y="369.8" width="183.9" height="1.3" fill="#4f1a00"/>
<rect x="322.5" y="370.8" width="183.9" height="1.3" fill="#391a00"/>
<rect x="322.5" y="371.8" width="183.9" height="2.3" fill="#3d1a00"/>
<rect x="322.5" y="373.8" width="183.9" height="1.3" fill="#421a00"/>
<rect x="322.5" y="374.8" width="183.9" height="2.1" fill="#3c1a00"/>
<rect x="322.5" y="376.6" width="183.9" height="1.7" fill="#481a00"/>
<rect x="322.5" y="378" width="183.9" height="2.3" fill="#451a00"/>
<rect x="322.5" y="380" width="183.9" height="3.3" fill="#471a00"/>
<rect x="322.5" y="383" width="183.9" height="3.3" fill="#461a00"/>
<rect x="322.5" y="386" width="183.9" height="3.3" fill="#3e1a00"/>
<rect x="322.5" y="389" width="183.9" height="1.3" fill="#401a00"/>
<rect x="322.5" y="390" width="183.9" height="1.3" fill="#3d1a00"/>
<rect x="322.5" y="391" width="183.9" height="1.3" fill="#401a00"/>
<rect x="322.5" y="392" width="183.9" height="2.3" fill="#421a00"/>
<rect x="322.5" y="394" width="183.9" height="2.1" fill="#431a00"/>
<rect x="322.5" y="395.8" width="183.9" height="1.3" fill="#321a00"/>
<rect x="322.5" y="396.8" width="183.9" height="3.3" fill="#481a00"/>
<rect x="322.5" y="399.8" width="183.9" height="3.3" fill="#411a00"/>
<rect x="322.5" y="402.8" width="183.9" height="1.7" fill="#3a1a00"/>
<rect x="322.5" y="404.2" width="183.9" height="2.7" fill="#441a00"/>
<rect x="322.5" y="406.6" width="183.9" height="1.3" fill="#4e1a00"/>
<rect x="322.5" y="407.6" width="183.9" height="2.7" fill="#4b1a00"/>
<rect x="322.5" y="410" width="183.9" height="1.3" fill="#3b1a00"/>
<rect x="322.5" y="411" width="183.9" height="2.3" fill="#3a1a00"/>
<rect x="322.5" y="413" width="183.9" height="1.3" fill="#491a00"/>
<rect x="322.5" y="414" width="183.9" height="2.7" fill="#451a00"/>
<rect x="322.5" y="416.4" width="183.9" height="2.1" fill="#3a1a00"/>
<rect x="322.5" y="418.2" width="183.9" height="1.7" fill="#391a00"/>
<rect x="322.5" y="419.6" width="183.9" height="1.3" fill="#4f1a00"/>
<rect x="322.5" y="420.6" width="183.9" height="1.3" fill="#401a00"/>
<rect x="322.5" y="421.6" width="183.9" height="3.3" fill="#481a00"/>
<rect x="322.5" y="424.6" width="183.9" height="2.7" fill="#451a00"/>
<rect x="322.5" y="427" width="183.9" height="1.3" fill="#471a00"/>
<rect x="322.5" y="428" width="183.9" height="1.3" fill="#4a1a00"/>
<rect x="322.5" y="429" width="183.9" height="2.7" fill="#381a00"/>
<rect x="322.5" y="431.4" width="183.9" height="3.1" fill="#481a00"/>
<polygon points="354.6,254 358.3,254 360,435 355.5,435" fill="#554000"/>
<rect x="353" y="254" width="1.1" height="181" fill="#000" opacity="0.14"/>
<rect x="348.4" y="254" width="1.1" height="181" fill="#000" opacity="0.1"/>
<polygon fill="#4cff00" points="358.3,256.6 359,315 405.6,315 404.5,256.6"/>
<polygon fill="#52ff00" points="358.3,256.6 359,315 405.6,315 404.5,256.6"/>
<polygon fill="#57ff00" points="358.3,256.6 359,315 405.6,315 404.5,256.6"/>
<polygon fill="#5cff00" points="358.3,256.6 359,315 405.6,315 404.5,256.6"/>
<polygon fill="#61ff00" points="358.86,256.6 359.69,315 405.32,315 404.17,256.6"/>
<polygon fill="#66ff00" points="359.41,256.6 360.39,315 405.03,315 403.83,256.6"/>
<polygon fill="#6bff00" points="359.97,256.6 361.08,315 404.75,315 403.5,256.6"/>
<polygon fill="#70ff00" points="360.52,256.6 361.78,315 404.55,315 403.27,256.6"/>
<polygon fill="#75ff00" points="361.05,256.6 362.44,315 404.36,315 403.04,256.6"/>
<polygon fill="#7aff00" points="361.55,256.6 363.06,315 404.16,315 402.81,256.6"/>
<polygon fill="#80ff00" points="362.05,256.6 363.69,315 403.97,315 402.58,256.6"/>
<polygon fill="#85ff00" points="362.55,256.6 364.31,315 403.77,315 402.35,256.6"/>
<polygon fill="#8aff00" points="363.05,256.6 364.94,315 403.57,315 402.12,256.6"/>
<polygon fill="#8fff00" points="363.59,256.6 365.61,315 403.33,315 401.83,256.6"/>
<polygon fill="#94ff00" points="364.16,256.6 366.32,315 403.05,315 401.5,256.6"/>
<polygon fill="#99ff00" points="364.73,256.6 367.04,315 402.77,315 401.17,256.6"/>
<polygon fill="#9eff00" points="365.3,256.6 367.75,315 402.48,315 400.83,256.6"/>
<polygon fill="#a3ff00" points="365.97,256.6 368.58,315 402.2,315 400.5,256.6"/>
<polygon fill="#a8ff00" points="366.63,256.6 369.42,315 401.78,315 400,256.6"/>
<polygon fill="#adff00" points="367.3,256.6 370.25,315 401.35,315 399.5,256.6"/>
<polygon fill="#b2ff00" points="368.13,256.6 371.29,315 400.93,315 399,256.6"/>
<polygon fill="#b8ff00" points="368.97,256.6 372.33,315 400.36,315 398.33,256.6"/>
<polygon fill="#bdff00" points="369.8,256.6 373.38,315 399.79,315 397.67,256.6"/>
<polygon fill="#c2f100" points="370.43,256.6 374.16,315 399.23,315 397,256.6"/>
<polygon fill="#c7e300" points="371.05,256.6 374.94,315 398.74,315 396.43,256.6"/>
<polygon fill="#ccd500" points="371.68,256.6 375.72,315 398.25,315 395.86,256.6"/>
<polygon fill="#d1c800" points="372.3,256.6 376.5,315 397.77,315 395.29,256.6"/>
<polygon fill="#d6ba00" points="373.5,256.6 378,315 396.99,315 394.38,256.6"/>
<polygon fill="#dbac00" points="374.7,256.6 379.5,315 395.93,315 393.12,256.6"/>
<polygon fill="#e09e00" points="377.24,256.6 382.68,315 393.98,315 390.83,256.6"/>
<polygon fill="#4cff00" points="359,315 359.3,345 407,345 405.6,315"/>
<polygon fill="#52ff00" points="359,315 359.3,345 407,345 405.6,315"/>
<polygon fill="#57ff00" points="359,315 359.3,345 407,345 405.6,315"/>
<polygon fill="#5cff00" points="359,315 359.3,345 407,345 405.6,315"/>
<polygon fill="#61ff00" points="359.69,315 359.97,345 406.71,345 405.32,315"/>
<polygon fill="#66ff00" points="360.39,315 360.63,345 406.41,345 405.03,315"/>
<polygon fill="#6bff00" points="361.08,315 361.3,345 406.12,345 404.75,315"/>
<polygon fill="#70ff00" points="361.78,315 361.97,345 405.92,345 404.55,315"/>
<polygon fill="#75ff00" points="362.44,315 362.6,345 405.71,345 404.36,315"/>
<polygon fill="#7aff00" points="363.06,315 363.2,345 405.51,345 404.16,315"/>
<polygon fill="#80ff00" points="363.69,315 363.8,345 405.31,345 403.97,315"/>
<polygon fill="#85ff00" points="364.31,315 364.4,345 405.1,345 403.77,315"/>
<polygon fill="#8aff00" points="364.94,315 365,345 404.9,345 403.57,315"/>
<polygon fill="#8fff00" points="365.61,315 365.64,345 404.65,345 403.33,315"/>
<polygon fill="#94ff00" points="366.32,315 366.33,345 404.36,345 403.05,315"/>
<polygon fill="#99ff00" points="367.04,315 367.01,345 404.07,345 402.77,315"/>
<polygon fill="#9eff00" points="367.75,315 367.7,345 403.77,345 402.48,315"/>
<polygon fill="#a3ff00" points="368.58,315 368.5,345 403.48,345 402.2,315"/>
<polygon fill="#a8ff00" points="369.42,315 369.3,345 403.04,345 401.78,315"/>
<polygon fill="#adff00" points="370.25,315 370.1,345 402.6,345 401.35,315"/>
<polygon fill="#b2ff00" points="371.29,315 371.1,345 402.16,345 400.93,315"/>
<polygon fill="#b8ff00" points="372.33,315 372.1,345 401.57,345 400.36,315"/>
<polygon fill="#bdff00" points="373.38,315 373.1,345 400.99,345 399.79,315"/>
<polygon fill="#c2f100" points="374.16,315 373.85,345 400.4,345 399.23,315"/>
<polygon fill="#c7e300" points="374.94,315 374.6,345 399.9,345 398.74,315"/>
<polygon fill="#ccd500" points="375.72,315 375.35,345 399.39,345 398.25,315"/>
<polygon fill="#d1c800" points="376.5,315 376.1,345 398.89,345 397.77,315"/>
<polygon fill="#d6ba00" points="378,315 377.54,345 398.09,345 396.99,315"/>
<polygon fill="#dbac00" points="379.5,315 378.98,345 396.99,345 395.93,315"/>
<polygon fill="#e09e00" points="382.68,315 382.03,345 394.97,345 393.98,315"/>
<polygon fill="#4cff00" points="359.3,345 360,422.5 409.6,422.5 407,345"/>
<polygon fill="#52ff00" points="359.3,345 360,422.5 409.6,422.5 407,345"/>
<polygon fill="#57ff00" points="359.3,345 360,422.5 409.6,422.5 407,345"/>
<polygon fill="#5cff00" points="359.3,345 360,422.5 409.6,422.5 407,345"/>
<polygon fill="#61ff00" points="359.97,345 360.63,422.5 409.25,422.5 406.71,345"/>
<polygon fill="#66ff00" points="360.63,345 361.26,422.5 408.91,422.5 406.41,345"/>
<polygon fill="#6bff00" points="361.3,345 361.88,422.5 408.56,422.5 406.12,345"/>
<polygon fill="#70ff00" points="361.97,345 362.51,422.5 408.32,422.5 405.92,345"/>
<polygon fill="#75ff00" points="362.6,345 363.11,422.5 408.08,422.5 405.71,345"/>
<polygon fill="#7aff00" points="363.2,345 363.67,422.5 407.84,422.5 405.51,345"/>
<polygon fill="#80ff00" points="363.8,345 364.24,422.5 407.6,422.5 405.31,345"/>
<polygon fill="#85ff00" points="364.4,345 364.8,422.5 407.36,422.5 405.1,345"/>
<polygon fill="#8aff00" points="365,345 365.37,422.5 407.12,422.5 404.9,345"/>
<polygon fill="#8fff00" points="365.64,345 365.97,422.5 406.83,422.5 404.65,345"/>
<polygon fill="#94ff00" points="366.33,345 366.62,422.5 406.48,422.5 404.36,345"/>
<polygon fill="#99ff00" points="367.01,345 367.26,422.5 406.13,422.5 404.07,345"/>
<polygon fill="#9eff00" points="367.7,345 367.91,422.5 405.79,422.5 403.77,345"/>
<polygon fill="#a3ff00" points="368.5,345 368.66,422.5 405.44,422.5 403.48,345"/>
<polygon fill="#a8ff00" points="369.3,345 369.42,422.5 404.92,422.5 403.04,345"/>
<polygon fill="#adff00" points="370.1,345 370.17,422.5 404.4,422.5 402.6,345"/>
<polygon fill="#b2ff00" points="371.1,345 371.11,422.5 403.88,422.5 402.16,345"/>
<polygon fill="#b8ff00" points="372.1,345 372.05,422.5 403.19,422.5 401.57,345"/>
<polygon fill="#bdff00" points="373.1,345 373,422.5 402.49,422.5 400.99,345"/>
<polygon fill="#c2f100" points="373.85,345 373.7,422.5 401.8,422.5 400.4,345"/>
<polygon fill="#c7e300" points="374.6,345 374.41,422.5 401.21,422.5 399.9,345"/>
<polygon fill="#ccd500" points="375.35,345 375.11,422.5 400.61,422.5 399.39,345"/>
<polygon fill="#d1c800" points="376.1,345 375.82,422.5 400.02,422.5 398.89,345"/>
<polygon fill="#d6ba00" points="377.54,345 377.18,422.5 399.07,422.5 398.09,345"/>
<polygon fill="#dbac00" points="378.98,345 378.53,422.5 397.77,422.5 396.99,345"/>
<polygon fill="#e09e00" points="382.03,345 381.41,422.5 395.39,422.5 394.97,345"/>
<polygon fill="#4cff00" points="360,422.5 360,432.5 401.5,432.5 401.5,422.5"/>
<polygon fill="#52ff00" points="360,422.5 360,432.5 401.5,432.5 401.5,422.5"/>
<polygon fill="#57ff00" points="360,422.5 360,432.5 401.5,432.5 401.5,422.5"/>
<polygon fill="#5cff00" points="360,422.5 360,432.5 401.5,432.5 401.5,422.5"/>
<polygon fill="#61ff00" points="360.63,422.5 360.63,432.5 401.33,432.5 401.33,422.5"/>
<polygon fill="#66ff00" points="361.26,422.5 361.26,432.5 401.17,432.5 401.17,422.5"/>
<polygon fill="#6bff00" points="361.88,422.5 361.88,432.5 401,432.5 401,422.5"/>
<polygon fill="#70ff00" points="362.51,422.5 362.51,432.5 400.88,432.5 400.88,422.5"/>
<polygon fill="#75ff00" points="363.11,422.5 363.11,432.5 400.77,432.5 400.77,422.5"/>
<polygon fill="#7aff00" points="363.67,422.5 363.67,432.5 400.65,432.5 400.65,422.5"/>
<polygon fill="#80ff00" points="364.24,422.5 364.24,432.5 400.54,432.5 400.54,422.5"/>
<polygon fill="#85ff00" points="364.8,422.5 364.8,432.5 400.42,432.5 400.42,422.5"/>
<polygon fill="#8aff00" points="365.37,422.5 365.37,432.5 400.31,432.5 400.31,422.5"/>
<polygon fill="#8fff00" points="365.97,422.5 365.97,432.5 400.17,432.5 400.17,422.5"/>
<polygon fill="#94ff00" points="366.62,422.5 366.62,432.5 400,432.5 400,422.5"/>
<polygon fill="#99ff00" points="367.26,422.5 367.26,432.5 399.83,432.5 399.83,422.5"/>
<polygon fill="#9eff00" points="367.91,422.5 367.91,432.5 399.67,432.5 399.67,422.5"/>
<polygon fill="#a3ff00" points="368.66,422.5 368.66,432.5 399.5,432.5 399.5,422.5"/>
<polygon fill="#a8ff00" points="369.42,422.5 369.42,432.5 399.25,432.5 399.25,422.5"/>
<polygon fill="#adff00" points="370.17,422.5 370.17,432.5 399,432.5 399,422.5"/>
<polygon fill="#b2ff00" points="371.11,422.5 371.11,432.5 398.75,432.5 398.75,422.5"/>
<polygon fill="#b8ff00" points="372.05,422.5 372.05,432.5 398.42,432.5 398.42,422.5"/>
<polygon fill="#bdff00" points="373,422.5 373,432.5 398.08,432.5 398.08,422.5"/>
<polygon fill="#c2f100" points="373.7,422.5 373.7,432.5 397.75,432.5 397.75,422.5"/>
<polygon fill="#c7e300" points="374.41,422.5 374.41,432.5 397.46,432.5 397.46,422.5"/>
<polygon fill="#ccd500" points="375.11,422.5 375.11,432.5 397.18,432.5 397.18,422.5"/>
<polygon fill="#d1c800" points="375.82,422.5 375.82,432.5 396.89,432.5 396.89,422.5"/>
<polygon fill="#d6ba00" points="377.18,422.5 377.18,432.5 396.44,432.5 396.44,422.5"/>
<polygon fill="#dbac00" points="378.53,422.5 378.53,432.5 395.81,432.5 395.81,422.5"/>
<polygon fill="#e09e00" points="381.41,422.5 381.41,432.5 394.67,432.5 394.67,422.5"/>
<rect x="357.33" y="257" width="1.2" height="1" fill="#2d1a00"/>
<rect x="357.11" y="258" width="1.2" height="1" fill="#231a00"/>
<rect x="404.65" y="258" width="1.2" height="1" fill="#331a00"/>
<rect x="357.54" y="259" width="1.2" height="1" fill="#1f1a00"/>
<rect x="357.25" y="260" width="1.2" height="1" fill="#1a1a00"/>
<rect x="404.9" y="260" width="1.2" height="1" fill="#1e1a00"/>
<rect x="357.54" y="262" width="1.2" height="1" fill="#1d1a00"/>
<rect x="357.15" y="263" width="1.2" height="1" fill="#2b1a00"/>
<rect x="404.34" y="263" width="1.2" height="1" fill="#261a00"/>
<rect x="404.79" y="264" width="1.2" height="1" fill="#281a00"/>
<rect x="357.46" y="265" width="1.2" height="1" fill="#1a1a00"/>
<rect x="357.67" y="267" width="1.2" height="1" fill="#1e1a00"/>
<rect x="357.08" y="268" width="1.2" height="1" fill="#301a00"/>
<rect x="404.96" y="268" width="1.2" height="1" fill="#251a00"/>
<rect x="357.3" y="269" width="1.2" height="1" fill="#281a00"/>
<rect x="405.03" y="270" width="1.2" height="1" fill="#301a00"/>
<rect x="357.49" y="271" width="1.2" height="1" fill="#1b1a00"/>
<rect x="405.03" y="272" width="1.2" height="1" fill="#201a00"/>
<rect x="357.49" y="273" width="1.2" height="1" fill="#2d1a00"/>
<rect x="357.64" y="274" width="1.2" height="1" fill="#2b1a00"/>
<rect x="404.57" y="274" width="1.2" height="1" fill="#291a00"/>
<rect x="404.97" y="275" width="1.2" height="1" fill="#2a1a00"/>
<rect x="357.68" y="276" width="1.2" height="1" fill="#261a00"/>
<rect x="404.58" y="276" width="1.2" height="1" fill="#201a00"/>
<rect x="404.96" y="277" width="1.2" height="1" fill="#301a00"/>
<rect x="357.72" y="278" width="1.2" height="1" fill="#1c1a00"/>
<rect x="357.66" y="280" width="1.2" height="1" fill="#2d1a00"/>
<rect x="404.66" y="280" width="1.2" height="1" fill="#301a00"/>
<rect x="357.94" y="281" width="1.2" height="1" fill="#241a00"/>
<rect x="404.78" y="282" width="1.2" height="1" fill="#311a00"/>
<rect x="357.99" y="283" width="1.2" height="1" fill="#2a1a00"/>
<rect x="357.27" y="284" width="1.2" height="1" fill="#311a00"/>
<rect x="357.73" y="285" width="1.2" height="1" fill="#1d1a00"/>
<rect x="357.59" y="287" width="1.2" height="1" fill="#201a00"/>
<rect x="405.09" y="287" width="1.2" height="1" fill="#221a00"/>
<rect x="357.38" y="288" width="1.2" height="1" fill="#2d1a00"/>
<rect x="357.66" y="289" width="1.2" height="1" fill="#241a00"/>
<rect x="357.55" y="290" width="1.2" height="1" fill="#271a00"/>
<rect x="358.08" y="291" width="1.2" height="1" fill="#1c1a00"/>
<rect x="404.97" y="291" width="1.2" height="1" fill="#2b1a00"/>
<rect x="357.66" y="293" width="1.2" height="1" fill="#221a00"/>
<rect x="357.93" y="294" width="1.2" height="1" fill="#2f1a00"/>
<rect x="405.17" y="294" width="1.2" height="1" fill="#331a00"/>
<rect x="357.37" y="295" width="1.2" height="1" fill="#2b1a00"/>
<rect x="357.57" y="296" width="1.2" height="1" fill="#291a00"/>
<rect x="357.78" y="298" width="1.2" height="1" fill="#311a00"/>
<rect x="357.9" y="299" width="1.2" height="1" fill="#311a00"/>
<rect x="358.02" y="300" width="1.2" height="1" fill="#2b1a00"/>
<rect x="405.32" y="301" width="1.2" height="1" fill="#1d1a00"/>
<rect x="357.95" y="302" width="1.2" height="1" fill="#321a00"/>
<rect x="357.71" y="304" width="1.2" height="1" fill="#291a00"/>
<rect x="357.88" y="305" width="1.2" height="1" fill="#271a00"/>
<rect x="358.22" y="306" width="1.2" height="1" fill="#271a00"/>
<rect x="405.21" y="307" width="1.2" height="1" fill="#211a00"/>
<rect x="405.83" y="308" width="1.2" height="1" fill="#2a1a00"/>
<rect x="358.16" y="310" width="1.2" height="1" fill="#261a00"/>
<rect x="405.27" y="312" width="1.2" height="1" fill="#231a00"/>
<rect x="405.4" y="313" width="1.2" height="1" fill="#301a00"/>
<rect x="357.68" y="314" width="1.2" height="1" fill="#201a00"/>
<rect x="358.04" y="315" width="1.2" height="1" fill="#231a00"/>
<rect x="357.79" y="321" width="1.2" height="1" fill="#201a00"/>
<rect x="358.3" y="322" width="1.2" height="1" fill="#221a00"/>
<rect x="358.11" y="323" width="1.2" height="1" fill="#2f1a00"/>
<rect x="358.2" y="324" width="1.2" height="1" fill="#2e1a00"/>
<rect x="405.75" y="324" width="1.2" height="1" fill="#1e1a00"/>
<rect x="357.88" y="325" width="1.2" height="1" fill="#231a00"/>
<rect x="358.23" y="327" width="1.2" height="1" fill="#2d1a00"/>
<rect x="405.97" y="328" width="1.2" height="1" fill="#2a1a00"/>
<rect x="358.46" y="329" width="1.2" height="1" fill="#211a00"/>
<rect x="357.92" y="330" width="1.2" height="1" fill="#2c1a00"/>
<rect x="406.47" y="331" width="1.2" height="1" fill="#311a00"/>
<rect x="358.47" y="332" width="1.2" height="1" fill="#331a00"/>
<rect x="358.39" y="335" width="1.2" height="1" fill="#261a00"/>
<rect x="358.4" y="337" width="1.2" height="1" fill="#1d1a00"/>
<rect x="406.69" y="337" width="1.2" height="1" fill="#241a00"/>
<rect x="358.31" y="338" width="1.2" height="1" fill="#311a00"/>
<rect x="358.35" y="339" width="1.2" height="1" fill="#321a00"/>
<rect x="406.35" y="339" width="1.2" height="1" fill="#201a00"/>
<rect x="357.89" y="340" width="1.2" height="1" fill="#231a00"/>
<rect x="406.48" y="340" width="1.2" height="1" fill="#2b1a00"/>
<rect x="358.34" y="341" width="1.2" height="1" fill="#1a1a00"/>
<rect x="358.67" y="344" width="1.2" height="1" fill="#331a00"/>
<rect x="358.03" y="346" width="1.2" height="1" fill="#201a00"/>
<rect x="406.93" y="347" width="1.2" height="1" fill="#2c1a00"/>
<rect x="358.32" y="348" width="1.2" height="1" fill="#2d1a00"/>
<rect x="407.15" y="349" width="1.2" height="1" fill="#321a00"/>
<rect x="358.58" y="350" width="1.2" height="1" fill="#2b1a00"/>
<rect x="358.19" y="351" width="1.2" height="1" fill="#2e1a00"/>
<rect x="358.34" y="353" width="1.2" height="1" fill="#261a00"/>
<rect x="407.25" y="354" width="1.2" height="1" fill="#271a00"/>
<rect x="358.19" y="355" width="1.2" height="1" fill="#1a1a00"/>
<rect x="358.62" y="358" width="1.2" height="1" fill="#2c1a00"/>
<rect x="407.84" y="361" width="1.2" height="1" fill="#261a00"/>
<rect x="358.53" y="362" width="1.2" height="1" fill="#1a1a00"/>
<rect x="407.9" y="362" width="1.2" height="1" fill="#271a00"/>
<rect x="358.77" y="363" width="1.2" height="1" fill="#2f1a00"/>
<rect x="407.55" y="363" width="1.2" height="1" fill="#2f1a00"/>
<rect x="358.33" y="364" width="1.2" height="1" fill="#2c1a00"/>
<rect x="358.48" y="366" width="1.2" height="1" fill="#1f1a00"/>
<rect x="358.33" y="367" width="1.2" height="1" fill="#201a00"/>
<rect x="407.42" y="367" width="1.2" height="1" fill="#281a00"/>
<rect x="358.21" y="369" width="1.2" height="1" fill="#1c1a00"/>
<rect x="408.09" y="371" width="1.2" height="1" fill="#2b1a00"/>
<rect x="358.45" y="373" width="1.2" height="1" fill="#241a00"/>
<rect x="358.76" y="375" width="1.2" height="1" fill="#211a00"/>
<rect x="408.25" y="375" width="1.2" height="1" fill="#2a1a00"/>
<rect x="358.52" y="377" width="1.2" height="1" fill="#311a00"/>
<rect x="408.48" y="377" width="1.2" height="1" fill="#1d1a00"/>
<rect x="358.81" y="378" width="1.2" height="1" fill="#291a00"/>
<rect x="358.92" y="380" width="1.2" height="1" fill="#251a00"/>
<rect x="408.05" y="383" width="1.2" height="1" fill="#251a00"/>
<rect x="358.33" y="385" width="1.2" height="1" fill="#291a00"/>
<rect x="358.83" y="386" width="1.2" height="1" fill="#251a00"/>
<rect x="358.84" y="387" width="1.2" height="1" fill="#2f1a00"/>
<rect x="358.74" y="388" width="1.2" height="1" fill="#1e1a00"/>
<rect x="408.57" y="388" width="1.2" height="1" fill="#2d1a00"/>
<rect x="358.39" y="389" width="1.2" height="1" fill="#2f1a00"/>
<rect x="358.57" y="390" width="1.2" height="1" fill="#261a00"/>
<rect x="408.78" y="391" width="1.2" height="1" fill="#261a00"/>
<rect x="358.56" y="392" width="1.2" height="1" fill="#2c1a00"/>
<rect x="408.94" y="393" width="1.2" height="1" fill="#1e1a00"/>
<rect x="359.08" y="394" width="1.2" height="1" fill="#2c1a00"/>
<rect x="408.68" y="394" width="1.2" height="1" fill="#331a00"/>
<rect x="358.59" y="396" width="1.2" height="1" fill="#1d1a00"/>
<rect x="409.15" y="397" width="1.2" height="1" fill="#221a00"/>
<rect x="358.94" y="398" width="1.2" height="1" fill="#231a00"/>
<rect x="358.62" y="399" width="1.2" height="1" fill="#251a00"/>
<rect x="358.67" y="400" width="1.2" height="1" fill="#1f1a00"/>
<rect x="408.69" y="400" width="1.2" height="1" fill="#281a00"/>
<rect x="358.8" y="401" width="1.2" height="1" fill="#251a00"/>
<rect x="359.15" y="403" width="1.2" height="1" fill="#2a1a00"/>
<rect x="359.18" y="405" width="1.2" height="1" fill="#311a00"/>
<rect x="358.68" y="406" width="1.2" height="1" fill="#2f1a00"/>
<rect x="409.25" y="406" width="1.2" height="1" fill="#1e1a00"/>
<rect x="358.98" y="407" width="1.2" height="1" fill="#1f1a00"/>
<rect x="409.42" y="407" width="1.2" height="1" fill="#1b1a00"/>
<rect x="359.22" y="409" width="1.2" height="1" fill="#311a00"/>
<rect x="358.85" y="410" width="1.2" height="1" fill="#201a00"/>
<rect x="359.28" y="412" width="1.2" height="1" fill="#221a00"/>
<rect x="409.05" y="413" width="1.2" height="1" fill="#271a00"/>
<rect x="358.88" y="414" width="1.2" height="1" fill="#231a00"/>
<rect x="409.5" y="414" width="1.2" height="1" fill="#1d1a00"/>
<rect x="359.12" y="415" width="1.2" height="1" fill="#2c1a00"/>
<rect x="409.68" y="415" width="1.2" height="1" fill="#251a00"/>
<rect x="358.7" y="416" width="1.2" height="1" fill="#1a1a00"/>
<rect x="409.54" y="416" width="1.2" height="1" fill="#331a00"/>
<rect x="409.19" y="417" width="1.2" height="1" fill="#201a00"/>
<rect x="358.63" y="419" width="1.2" height="1" fill="#1d1a00"/>
<rect x="358.71" y="420" width="1.2" height="1" fill="#261a00"/>
<rect x="409.16" y="420" width="1.2" height="1" fill="#1c1a00"/>
<rect x="358.77" y="421" width="1.2" height="1" fill="#321a00"/>
<rect x="358.73" y="423" width="1.2" height="1" fill="#311a00"/>
<rect x="401.5" y="423" width="1.2" height="1" fill="#301a00"/>
<rect x="358.8" y="424" width="1.2" height="1" fill="#2a1a00"/>
<rect x="358.82" y="425" width="1.2" height="1" fill="#261a00"/>
<rect x="359.25" y="427" width="1.2" height="1" fill="#251a00"/>
<rect x="358.99" y="428" width="1.2" height="1" fill="#201a00"/>
<rect x="358.9" y="431" width="1.2" height="1" fill="#2d1a00"/>
<rect x="401.4" y="431" width="1.2" height="1" fill="#201a00"/>
</g></g>
<rect x="324.75" y="256.85" width="179.4" height="175.4" fill="none" stroke="#00103a" stroke-opacity=".25" stroke-width=".5"/>
</g>
<g id="colorbars">
<rect x="236.4" y="5.8" width="9.8" height="174.4" fill="url(#cbg)" stroke="#200" stroke-opacity=".3" stroke-width=".4"/>
<rect x="518.6" y="7.2" width="9.9" height="175.1" fill="url(#cbg)" stroke="#200" stroke-opacity=".3" stroke-width=".4"/>
<rect x="238.6" y="256.4" width="10.2" height="176.9" fill="url(#cbg)" stroke="#200" stroke-opacity=".3" stroke-width=".4"/>
<rect x="518.8" y="256.8" width="9.7" height="175.5" fill="url(#cbg)" stroke="#200" stroke-opacity=".3" stroke-width=".4"/>
</g>
<g id="labels">
<text x="43" y="17.69" font-size="15.8" text-anchor="end">200</text>
<text x="43" y="61.94" font-size="15.8" text-anchor="end">150</text>
<text x="43" y="106.04" font-size="15.8" text-anchor="end">100</text>
<text x="39.6" y="147.34" font-size="15.8" text-anchor="end">50</text>
<text x="35.7" y="185.54" font-size="15.8" text-anchor="end">0</text>
<text x="28.5" y="199.14" font-size="15.8" text-anchor="start" textLength="27" lengthAdjust="spacingAndGlyphs">−0.5</text>
<text x="68.9" y="199.14" font-size="15.8" text-anchor="start" textLength="34.8" lengthAdjust="spacingAndGlyphs">−0.25</text>
<text x="133.8" y="199.14" font-size="15.8" text-anchor="middle">0</text>
<text x="180.7" y="199.14" font-size="15.8" text-anchor="middle">0.25</text>
<text x="221.9" y="199.14" font-size="15.8" text-anchor="middle">0.5</text>
<text x="251.1" y="22.4" font-size="13.3" text-anchor="start">100</text>
<text x="251.1" y="62.2" font-size="13.3" text-anchor="start">80</text>
<text x="251.1" y="102" font-size="13.3" text-anchor="start">60</text>
<text x="251.1" y="141.9" font-size="13.3" text-anchor="start">40</text>
<text x="251.1" y="181.7" font-size="13.3" text-anchor="start">20</text>
<text x="84.55" y="220.5" font-size="14" text-anchor="start" textLength="113.7" lengthAdjust="spacing">Normalized Doppler</text>
<text transform="translate(13.2 132.1) rotate(-90)" font-size="14" text-anchor="start" textLength="60.6" lengthAdjust="spacing">Range gate</text>
<text x="133.9" y="245.7" font-size="14" text-anchor="middle">(<tspan font-weight="bold">a</tspan>)</text>
<text x="319.8" y="17.74" font-size="15.8" text-anchor="end">200</text>
<text x="319.8" y="61.94" font-size="15.8" text-anchor="end">150</text>
<text x="319.8" y="105.74" font-size="15.8" text-anchor="end">100</text>
<text x="315.9" y="147.34" font-size="15.8" text-anchor="end">50</text>
<text x="312.1" y="185.24" font-size="15.8" text-anchor="end">0</text>
<text x="305.3" y="199.34" font-size="15.8" text-anchor="start" textLength="27" lengthAdjust="spacingAndGlyphs">−0.5</text>
<text x="346.1" y="199.34" font-size="15.8" text-anchor="start" textLength="34.8" lengthAdjust="spacingAndGlyphs">−0.25</text>
<text x="410.5" y="199.34" font-size="15.8" text-anchor="middle">0</text>
<text x="458.5" y="199.34" font-size="15.8" text-anchor="middle">0.25</text>
<text x="499" y="199.34" font-size="15.8" text-anchor="middle">0.5</text>
<text x="532.8" y="18.13" font-size="14.3" text-anchor="start">80</text>
<text x="533" y="53.03" font-size="14.3" text-anchor="start">60</text>
<text x="533" y="87.43" font-size="14.3" text-anchor="start">40</text>
<text x="533" y="121.83" font-size="14.3" text-anchor="start">20</text>
<text x="533" y="156.43" font-size="14.3" text-anchor="start">0</text>
<text x="361.15" y="220.5" font-size="14" text-anchor="start" textLength="113.7" lengthAdjust="spacing">Normalized Doppler</text>
<text transform="translate(289 132.1) rotate(-90)" font-size="14" text-anchor="start" textLength="60.6" lengthAdjust="spacing">Range gate</text>
<text x="410" y="245.7" font-size="14" text-anchor="middle">(<tspan font-weight="bold">b</tspan>)</text>
<text x="43" y="268.84" font-size="15.8" text-anchor="end">200</text>
<text x="43" y="312.64" font-size="15.8" text-anchor="end">150</text>
<text x="43" y="356.34" font-size="15.8" text-anchor="end">100</text>
<text x="39.6" y="397.34" font-size="15.8" text-anchor="end">50</text>
<text x="35.5" y="435.74" font-size="15.8" text-anchor="end">0</text>
<text x="28.2" y="448.94" font-size="15.8" text-anchor="start" textLength="27" lengthAdjust="spacingAndGlyphs">−0.5</text>
<text x="68.6" y="448.94" font-size="15.8" text-anchor="start" textLength="34.8" lengthAdjust="spacingAndGlyphs">−0.25</text>
<text x="133" y="448.94" font-size="15.8" text-anchor="middle">0</text>
<text x="180.3" y="448.94" font-size="15.8" text-anchor="middle">0.25</text>
<text x="221" y="448.94" font-size="15.8" text-anchor="middle">0.5</text>
<text x="252.4" y="268.8" font-size="13.6" text-anchor="start">100</text>
<text x="252.4" y="306.8" font-size="13.6" text-anchor="start">80</text>
<text x="252.4" y="344.7" font-size="13.6" text-anchor="start">60</text>
<text x="252.4" y="382.2" font-size="13.6" text-anchor="start">40</text>
<text x="252.4" y="419.7" font-size="13.6" text-anchor="start">20</text>
<text x="84.45" y="470.5" font-size="14" text-anchor="start" textLength="113.7" lengthAdjust="spacing">Normalized Doppler</text>
<text transform="translate(13.2 382.3) rotate(-90)" font-size="14" text-anchor="start" textLength="60.6" lengthAdjust="spacing">Range gate</text>
<text x="133.5" y="495" font-size="14" text-anchor="middle">(<tspan font-weight="bold">c</tspan>)</text>
<text x="318" y="269.34" font-size="15.8" text-anchor="end">200</text>
<text x="318" y="312.74" font-size="15.8" text-anchor="end">150</text>
<text x="318" y="356.34" font-size="15.8" text-anchor="end">100</text>
<text x="315" y="397.34" font-size="15.8" text-anchor="end">50</text>
<text x="310.8" y="435.34" font-size="15.8" text-anchor="end">0</text>
<text x="303.7" y="448.94" font-size="15.8" text-anchor="start" textLength="27" lengthAdjust="spacingAndGlyphs">−0.5</text>
<text x="344.6" y="448.94" font-size="15.8" text-anchor="start" textLength="34.8" lengthAdjust="spacingAndGlyphs">−0.25</text>
<text x="409.2" y="448.94" font-size="15.8" text-anchor="middle">0</text>
<text x="456" y="448.94" font-size="15.8" text-anchor="middle">0.25</text>
<text x="496.3" y="448.94" font-size="15.8" text-anchor="middle">0.5</text>
<text x="532.8" y="268.47" font-size="14.4" text-anchor="start">80</text>
<text x="532.8" y="308.67" font-size="14.4" text-anchor="start">60</text>
<text x="532.8" y="348.77" font-size="14.4" text-anchor="start">40</text>
<text x="532.8" y="388.97" font-size="14.4" text-anchor="start">20</text>
<text x="532.8" y="429.07" font-size="14.4" text-anchor="start">0</text>
<text x="359.85" y="470.5" font-size="14" text-anchor="start" textLength="113.7" lengthAdjust="spacing">Normalized Doppler</text>
<text transform="translate(289 382.3) rotate(-90)" font-size="14" text-anchor="start" textLength="60.6" lengthAdjust="spacing">Range gate</text>
<text x="410" y="495" font-size="14" text-anchor="middle">(<tspan font-weight="bold">d</tspan>)</text>
</g>
</svg>
</body></html>
